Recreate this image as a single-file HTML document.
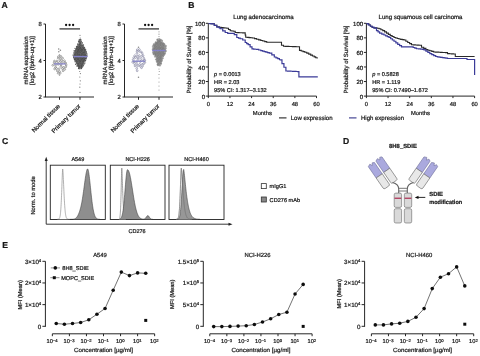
<!DOCTYPE html>
<html><head><meta charset="utf-8"><style>
html,body{margin:0;padding:0;background:#fff;width:480px;height:356px;overflow:hidden}
svg{display:block}
text{font-family:"Liberation Sans", sans-serif;stroke:#1a1a1a;stroke-width:0.22px;text-rendering:geometricPrecision}
</style></head><body>
<svg width="480" height="356" viewBox="0 0 480 356">
<defs><filter id="bl" x="0" y="0" width="1" height="1"><feGaussianBlur stdDeviation="0.3"/></filter></defs>
<rect width="480" height="356" fill="#fff"/>
<g filter="url(#bl)">
<rect width="480" height="356" fill="#fff"/>
<text transform="translate(1.5,8.3) scale(1,1.0)" font-size="8.6" text-anchor="start" font-weight="bold" fill="#1a1a1a" >A</text>
<line x1="45.5" y1="24" x2="45.5" y2="97.3" stroke="#262626" stroke-width="1.0" />
<line x1="45.5" y1="97" x2="94" y2="97" stroke="#262626" stroke-width="1.0" />
<line x1="43.5" y1="24" x2="45.5" y2="24" stroke="#262626" stroke-width="1.0" />
<text transform="translate(41.9,26.3) scale(1,1.0)" font-size="5.9" text-anchor="end" font-weight="normal" fill="#1a1a1a" >8</text>
<line x1="43.5" y1="60.5" x2="45.5" y2="60.5" stroke="#262626" stroke-width="1.0" />
<text transform="translate(41.9,62.8) scale(1,1.0)" font-size="5.9" text-anchor="end" font-weight="normal" fill="#1a1a1a" >4</text>
<line x1="43.5" y1="97" x2="45.5" y2="97" stroke="#262626" stroke-width="1.0" />
<text transform="translate(41.9,99.3) scale(1,1.0)" font-size="5.9" text-anchor="end" font-weight="normal" fill="#1a1a1a" >2</text>
<line x1="59.5" y1="97" x2="59.5" y2="99.8" stroke="#262626" stroke-width="1.0" />
<line x1="80" y1="97" x2="80" y2="99.8" stroke="#262626" stroke-width="1.0" />
<line x1="59.5" y1="28.9" x2="80" y2="28.9" stroke="#3a3a3a" stroke-width="1.3" />
<circle cx="66.1" cy="25" r="1.15" fill="#111"/>
<circle cx="69.6" cy="25" r="1.15" fill="#111"/>
<circle cx="73.1" cy="25" r="1.15" fill="#111"/>
<text transform="translate(27.6,60.5) scale(1,1.0) rotate(-90)" font-size="6.0" text-anchor="middle" font-weight="normal" fill="#1a1a1a" >mRNA expression</text>
<text transform="translate(33.9,60.5) scale(1,1.0) rotate(-90)" font-size="6.0" text-anchor="middle" font-weight="normal" fill="#1a1a1a" >[log2 (fpkm-uq+1)]</text>
<text transform="translate(60.5,106.5) scale(1,1.0) rotate(-45)" font-size="6.1" text-anchor="end" font-weight="normal" fill="#1a1a1a" >Normal tissue</text>
<text transform="translate(81,106.5) scale(1,1.0) rotate(-45)" font-size="6.1" text-anchor="end" font-weight="normal" fill="#1a1a1a" >Primary tumor</text>
<circle cx="58.50" cy="56.65" r="0.9" fill="#fff" stroke="#5a5a5a" stroke-width="0.5"/>
<circle cx="60.84" cy="56.37" r="0.9" fill="#fff" stroke="#5a5a5a" stroke-width="0.5"/>
<circle cx="58.21" cy="58.12" r="0.9" fill="#fff" stroke="#5a5a5a" stroke-width="0.5"/>
<circle cx="60.37" cy="58.17" r="0.9" fill="#fff" stroke="#5a5a5a" stroke-width="0.5"/>
<circle cx="62.58" cy="58.20" r="0.9" fill="#fff" stroke="#5a5a5a" stroke-width="0.5"/>
<circle cx="54.43" cy="61.11" r="0.9" fill="#fff" stroke="#5a5a5a" stroke-width="0.5"/>
<circle cx="56.80" cy="61.14" r="0.9" fill="#fff" stroke="#5a5a5a" stroke-width="0.5"/>
<circle cx="59.86" cy="60.45" r="0.9" fill="#fff" stroke="#5a5a5a" stroke-width="0.5"/>
<circle cx="61.72" cy="60.47" r="0.9" fill="#fff" stroke="#5a5a5a" stroke-width="0.5"/>
<circle cx="64.38" cy="60.74" r="0.9" fill="#fff" stroke="#5a5a5a" stroke-width="0.5"/>
<circle cx="54.17" cy="62.79" r="0.9" fill="#fff" stroke="#5a5a5a" stroke-width="0.5"/>
<circle cx="56.46" cy="62.45" r="0.9" fill="#fff" stroke="#5a5a5a" stroke-width="0.5"/>
<circle cx="59.43" cy="62.55" r="0.9" fill="#fff" stroke="#5a5a5a" stroke-width="0.5"/>
<circle cx="62.05" cy="62.54" r="0.9" fill="#fff" stroke="#5a5a5a" stroke-width="0.5"/>
<circle cx="64.90" cy="62.48" r="0.9" fill="#fff" stroke="#5a5a5a" stroke-width="0.5"/>
<circle cx="65.58" cy="63.12" r="0.9" fill="#fff" stroke="#5a5a5a" stroke-width="0.5"/>
<circle cx="52.79" cy="65.30" r="0.9" fill="#fff" stroke="#5a5a5a" stroke-width="0.5"/>
<circle cx="55.52" cy="65.08" r="0.9" fill="#fff" stroke="#5a5a5a" stroke-width="0.5"/>
<circle cx="58.19" cy="64.36" r="0.9" fill="#fff" stroke="#5a5a5a" stroke-width="0.5"/>
<circle cx="61.06" cy="64.89" r="0.9" fill="#fff" stroke="#5a5a5a" stroke-width="0.5"/>
<circle cx="66.20" cy="64.91" r="0.9" fill="#fff" stroke="#5a5a5a" stroke-width="0.5"/>
<circle cx="55.56" cy="67.24" r="0.9" fill="#fff" stroke="#5a5a5a" stroke-width="0.5"/>
<circle cx="60.96" cy="66.46" r="0.9" fill="#fff" stroke="#5a5a5a" stroke-width="0.5"/>
<circle cx="63.55" cy="67.39" r="0.9" fill="#fff" stroke="#5a5a5a" stroke-width="0.5"/>
<circle cx="65.78" cy="66.79" r="0.9" fill="#fff" stroke="#5a5a5a" stroke-width="0.5"/>
<circle cx="54.61" cy="68.94" r="0.9" fill="#fff" stroke="#5a5a5a" stroke-width="0.5"/>
<circle cx="56.52" cy="68.54" r="0.9" fill="#fff" stroke="#5a5a5a" stroke-width="0.5"/>
<circle cx="59.13" cy="68.73" r="0.9" fill="#fff" stroke="#5a5a5a" stroke-width="0.5"/>
<circle cx="62.47" cy="68.56" r="0.9" fill="#fff" stroke="#5a5a5a" stroke-width="0.5"/>
<circle cx="64.75" cy="69.36" r="0.9" fill="#fff" stroke="#5a5a5a" stroke-width="0.5"/>
<circle cx="57.26" cy="70.84" r="0.9" fill="#fff" stroke="#5a5a5a" stroke-width="0.5"/>
<circle cx="59.36" cy="71.44" r="0.9" fill="#fff" stroke="#5a5a5a" stroke-width="0.5"/>
<circle cx="63.09" cy="70.79" r="0.9" fill="#fff" stroke="#5a5a5a" stroke-width="0.5"/>
<circle cx="58.18" cy="73.23" r="0.9" fill="#fff" stroke="#5a5a5a" stroke-width="0.5"/>
<circle cx="60.30" cy="73.06" r="0.9" fill="#fff" stroke="#5a5a5a" stroke-width="0.5"/>
<circle cx="58.70" cy="49.00" r="0.77" fill="#888" stroke="none"/>
<circle cx="60.40" cy="50.20" r="0.77" fill="#888" stroke="none"/>
<circle cx="58.80" cy="51.80" r="0.77" fill="#888" stroke="none"/>
<circle cx="59.50" cy="55.00" r="0.77" fill="#888" stroke="none"/>
<circle cx="59.50" cy="75.00" r="0.77" fill="#888" stroke="none"/>
<polygon points="80.00,39.50 79.10,43.00 77.30,46.00 75.00,51.00 73.90,55.50 75.10,60.00 77.30,65.00 79.90,69.00 80.10,69.00 82.70,65.00 84.90,60.00 86.10,55.50 85.00,51.00 82.70,46.00 80.90,43.00 80.00,39.50" fill="#7a7a7a"/>
<circle cx="79.33" cy="39.68" r="0.7" fill="#4c4c4c" stroke="none" stroke-width="0.3"/>
<circle cx="80.71" cy="39.55" r="0.7" fill="#4c4c4c" stroke="none" stroke-width="0.3"/>
<circle cx="79.12" cy="40.78" r="0.7" fill="#4c4c4c" stroke="none" stroke-width="0.3"/>
<circle cx="80.85" cy="40.74" r="0.7" fill="#4c4c4c" stroke="none" stroke-width="0.3"/>
<circle cx="78.56" cy="41.58" r="0.7" fill="#4c4c4c" stroke="none" stroke-width="0.3"/>
<circle cx="79.82" cy="41.57" r="0.7" fill="#4c4c4c" stroke="none" stroke-width="0.3"/>
<circle cx="81.26" cy="41.68" r="0.7" fill="#4c4c4c" stroke="none" stroke-width="0.3"/>
<circle cx="79.10" cy="42.72" r="0.7" fill="#4c4c4c" stroke="none" stroke-width="0.3"/>
<circle cx="80.65" cy="42.67" r="0.7" fill="#4c4c4c" stroke="none" stroke-width="0.3"/>
<circle cx="82.15" cy="42.72" r="0.7" fill="#4c4c4c" stroke="none" stroke-width="0.3"/>
<circle cx="77.84" cy="43.93" r="0.7" fill="#4c4c4c" stroke="none" stroke-width="0.3"/>
<circle cx="79.44" cy="44.18" r="0.7" fill="#4c4c4c" stroke="none" stroke-width="0.3"/>
<circle cx="80.69" cy="43.81" r="0.7" fill="#4c4c4c" stroke="none" stroke-width="0.3"/>
<circle cx="82.04" cy="43.89" r="0.7" fill="#4c4c4c" stroke="none" stroke-width="0.3"/>
<circle cx="77.76" cy="44.91" r="0.7" fill="#4c4c4c" stroke="none" stroke-width="0.3"/>
<circle cx="79.31" cy="44.96" r="0.7" fill="#4c4c4c" stroke="none" stroke-width="0.3"/>
<circle cx="80.51" cy="45.11" r="0.7" fill="#4c4c4c" stroke="none" stroke-width="0.3"/>
<circle cx="82.25" cy="45.18" r="0.7" fill="#4c4c4c" stroke="none" stroke-width="0.3"/>
<circle cx="83.45" cy="44.97" r="0.7" fill="#4c4c4c" stroke="none" stroke-width="0.3"/>
<circle cx="76.51" cy="46.33" r="0.7" fill="#4c4c4c" stroke="none" stroke-width="0.3"/>
<circle cx="77.79" cy="46.34" r="0.7" fill="#4c4c4c" stroke="none" stroke-width="0.3"/>
<circle cx="79.44" cy="46.34" r="0.7" fill="#4c4c4c" stroke="none" stroke-width="0.3"/>
<circle cx="80.80" cy="46.11" r="0.7" fill="#4c4c4c" stroke="none" stroke-width="0.3"/>
<circle cx="82.04" cy="46.03" r="0.7" fill="#4c4c4c" stroke="none" stroke-width="0.3"/>
<circle cx="83.41" cy="46.12" r="0.7" fill="#4c4c4c" stroke="none" stroke-width="0.3"/>
<circle cx="76.68" cy="47.32" r="0.7" fill="#4c4c4c" stroke="none" stroke-width="0.3"/>
<circle cx="78.10" cy="47.52" r="0.7" fill="#4c4c4c" stroke="none" stroke-width="0.3"/>
<circle cx="79.19" cy="47.23" r="0.7" fill="#4c4c4c" stroke="none" stroke-width="0.3"/>
<circle cx="80.58" cy="47.39" r="0.7" fill="#4c4c4c" stroke="none" stroke-width="0.3"/>
<circle cx="82.24" cy="47.33" r="0.7" fill="#4c4c4c" stroke="none" stroke-width="0.3"/>
<circle cx="83.62" cy="47.17" r="0.7" fill="#4c4c4c" stroke="none" stroke-width="0.3"/>
<circle cx="84.22" cy="47.45" r="0.7" fill="#4c4c4c" stroke="none" stroke-width="0.3"/>
<circle cx="75.09" cy="48.33" r="0.7" fill="#4c4c4c" stroke="none" stroke-width="0.3"/>
<circle cx="76.43" cy="48.58" r="0.7" fill="#4c4c4c" stroke="none" stroke-width="0.3"/>
<circle cx="77.86" cy="48.42" r="0.7" fill="#4c4c4c" stroke="none" stroke-width="0.3"/>
<circle cx="79.39" cy="48.33" r="0.7" fill="#4c4c4c" stroke="none" stroke-width="0.3"/>
<circle cx="80.56" cy="48.62" r="0.7" fill="#4c4c4c" stroke="none" stroke-width="0.3"/>
<circle cx="81.96" cy="48.59" r="0.7" fill="#4c4c4c" stroke="none" stroke-width="0.3"/>
<circle cx="83.56" cy="48.40" r="0.7" fill="#4c4c4c" stroke="none" stroke-width="0.3"/>
<circle cx="84.75" cy="48.27" r="0.7" fill="#4c4c4c" stroke="none" stroke-width="0.3"/>
<circle cx="75.86" cy="49.59" r="0.7" fill="#4c4c4c" stroke="none" stroke-width="0.3"/>
<circle cx="77.17" cy="49.73" r="0.7" fill="#4c4c4c" stroke="none" stroke-width="0.3"/>
<circle cx="78.48" cy="49.48" r="0.7" fill="#4c4c4c" stroke="none" stroke-width="0.3"/>
<circle cx="79.90" cy="49.61" r="0.7" fill="#4c4c4c" stroke="none" stroke-width="0.3"/>
<circle cx="81.37" cy="49.43" r="0.7" fill="#4c4c4c" stroke="none" stroke-width="0.3"/>
<circle cx="82.74" cy="49.56" r="0.7" fill="#4c4c4c" stroke="none" stroke-width="0.3"/>
<circle cx="84.36" cy="49.55" r="0.7" fill="#4c4c4c" stroke="none" stroke-width="0.3"/>
<circle cx="85.60" cy="49.59" r="0.7" fill="#4c4c4c" stroke="none" stroke-width="0.3"/>
<circle cx="74.21" cy="50.68" r="0.7" fill="#4c4c4c" stroke="none" stroke-width="0.3"/>
<circle cx="75.60" cy="50.82" r="0.7" fill="#4c4c4c" stroke="none" stroke-width="0.3"/>
<circle cx="77.19" cy="50.79" r="0.7" fill="#4c4c4c" stroke="none" stroke-width="0.3"/>
<circle cx="78.53" cy="50.71" r="0.7" fill="#4c4c4c" stroke="none" stroke-width="0.3"/>
<circle cx="80.11" cy="50.54" r="0.7" fill="#4c4c4c" stroke="none" stroke-width="0.3"/>
<circle cx="81.30" cy="50.61" r="0.7" fill="#4c4c4c" stroke="none" stroke-width="0.3"/>
<circle cx="82.80" cy="50.72" r="0.7" fill="#4c4c4c" stroke="none" stroke-width="0.3"/>
<circle cx="84.36" cy="50.68" r="0.7" fill="#4c4c4c" stroke="none" stroke-width="0.3"/>
<circle cx="85.60" cy="50.70" r="0.7" fill="#4c4c4c" stroke="none" stroke-width="0.3"/>
<circle cx="74.38" cy="51.83" r="0.7" fill="#4c4c4c" stroke="none" stroke-width="0.3"/>
<circle cx="75.98" cy="51.90" r="0.7" fill="#4c4c4c" stroke="none" stroke-width="0.3"/>
<circle cx="77.38" cy="51.72" r="0.7" fill="#4c4c4c" stroke="none" stroke-width="0.3"/>
<circle cx="78.78" cy="51.96" r="0.7" fill="#4c4c4c" stroke="none" stroke-width="0.3"/>
<circle cx="79.85" cy="51.80" r="0.7" fill="#4c4c4c" stroke="none" stroke-width="0.3"/>
<circle cx="81.30" cy="51.65" r="0.7" fill="#4c4c4c" stroke="none" stroke-width="0.3"/>
<circle cx="82.91" cy="51.98" r="0.7" fill="#4c4c4c" stroke="none" stroke-width="0.3"/>
<circle cx="84.29" cy="51.88" r="0.7" fill="#4c4c4c" stroke="none" stroke-width="0.3"/>
<circle cx="85.75" cy="52.01" r="0.7" fill="#4c4c4c" stroke="none" stroke-width="0.3"/>
<circle cx="86.10" cy="51.78" r="0.7" fill="#4c4c4c" stroke="none" stroke-width="0.3"/>
<circle cx="73.90" cy="53.07" r="0.7" fill="#4c4c4c" stroke="none" stroke-width="0.3"/>
<circle cx="75.07" cy="52.95" r="0.7" fill="#4c4c4c" stroke="none" stroke-width="0.3"/>
<circle cx="76.38" cy="52.87" r="0.7" fill="#4c4c4c" stroke="none" stroke-width="0.3"/>
<circle cx="77.71" cy="52.96" r="0.7" fill="#4c4c4c" stroke="none" stroke-width="0.3"/>
<circle cx="79.11" cy="52.87" r="0.7" fill="#4c4c4c" stroke="none" stroke-width="0.3"/>
<circle cx="80.70" cy="52.77" r="0.7" fill="#4c4c4c" stroke="none" stroke-width="0.3"/>
<circle cx="82.22" cy="53.13" r="0.7" fill="#4c4c4c" stroke="none" stroke-width="0.3"/>
<circle cx="83.41" cy="52.76" r="0.7" fill="#4c4c4c" stroke="none" stroke-width="0.3"/>
<circle cx="84.81" cy="52.79" r="0.7" fill="#4c4c4c" stroke="none" stroke-width="0.3"/>
<circle cx="86.46" cy="53.07" r="0.7" fill="#4c4c4c" stroke="none" stroke-width="0.3"/>
<circle cx="74.26" cy="54.23" r="0.7" fill="#4c4c4c" stroke="none" stroke-width="0.3"/>
<circle cx="75.88" cy="53.90" r="0.7" fill="#4c4c4c" stroke="none" stroke-width="0.3"/>
<circle cx="77.28" cy="54.03" r="0.7" fill="#4c4c4c" stroke="none" stroke-width="0.3"/>
<circle cx="78.78" cy="54.11" r="0.7" fill="#4c4c4c" stroke="none" stroke-width="0.3"/>
<circle cx="79.83" cy="54.20" r="0.7" fill="#4c4c4c" stroke="none" stroke-width="0.3"/>
<circle cx="81.55" cy="54.04" r="0.7" fill="#4c4c4c" stroke="none" stroke-width="0.3"/>
<circle cx="82.82" cy="54.23" r="0.7" fill="#4c4c4c" stroke="none" stroke-width="0.3"/>
<circle cx="84.05" cy="54.07" r="0.7" fill="#4c4c4c" stroke="none" stroke-width="0.3"/>
<circle cx="85.44" cy="53.92" r="0.7" fill="#4c4c4c" stroke="none" stroke-width="0.3"/>
<circle cx="86.88" cy="53.98" r="0.7" fill="#4c4c4c" stroke="none" stroke-width="0.3"/>
<circle cx="73.10" cy="55.10" r="0.7" fill="#4c4c4c" stroke="none" stroke-width="0.3"/>
<circle cx="74.27" cy="55.12" r="0.7" fill="#4c4c4c" stroke="none" stroke-width="0.3"/>
<circle cx="75.70" cy="54.99" r="0.7" fill="#4c4c4c" stroke="none" stroke-width="0.3"/>
<circle cx="77.22" cy="55.06" r="0.7" fill="#4c4c4c" stroke="none" stroke-width="0.3"/>
<circle cx="78.77" cy="55.02" r="0.7" fill="#4c4c4c" stroke="none" stroke-width="0.3"/>
<circle cx="79.97" cy="55.18" r="0.7" fill="#4c4c4c" stroke="none" stroke-width="0.3"/>
<circle cx="81.36" cy="55.18" r="0.7" fill="#4c4c4c" stroke="none" stroke-width="0.3"/>
<circle cx="82.99" cy="55.12" r="0.7" fill="#4c4c4c" stroke="none" stroke-width="0.3"/>
<circle cx="84.28" cy="55.23" r="0.7" fill="#4c4c4c" stroke="none" stroke-width="0.3"/>
<circle cx="85.54" cy="55.00" r="0.7" fill="#4c4c4c" stroke="none" stroke-width="0.3"/>
<circle cx="86.83" cy="55.28" r="0.7" fill="#4c4c4c" stroke="none" stroke-width="0.3"/>
<circle cx="73.57" cy="56.13" r="0.7" fill="#4c4c4c" stroke="none" stroke-width="0.3"/>
<circle cx="75.25" cy="56.37" r="0.7" fill="#4c4c4c" stroke="none" stroke-width="0.3"/>
<circle cx="76.40" cy="56.22" r="0.7" fill="#4c4c4c" stroke="none" stroke-width="0.3"/>
<circle cx="77.76" cy="56.28" r="0.7" fill="#4c4c4c" stroke="none" stroke-width="0.3"/>
<circle cx="79.48" cy="56.49" r="0.7" fill="#4c4c4c" stroke="none" stroke-width="0.3"/>
<circle cx="80.60" cy="56.49" r="0.7" fill="#4c4c4c" stroke="none" stroke-width="0.3"/>
<circle cx="82.04" cy="56.10" r="0.7" fill="#4c4c4c" stroke="none" stroke-width="0.3"/>
<circle cx="83.49" cy="56.30" r="0.7" fill="#4c4c4c" stroke="none" stroke-width="0.3"/>
<circle cx="84.90" cy="56.10" r="0.7" fill="#4c4c4c" stroke="none" stroke-width="0.3"/>
<circle cx="86.14" cy="56.26" r="0.7" fill="#4c4c4c" stroke="none" stroke-width="0.3"/>
<circle cx="86.79" cy="56.22" r="0.7" fill="#4c4c4c" stroke="none" stroke-width="0.3"/>
<circle cx="73.73" cy="57.43" r="0.7" fill="#4c4c4c" stroke="none" stroke-width="0.3"/>
<circle cx="75.16" cy="57.51" r="0.7" fill="#4c4c4c" stroke="none" stroke-width="0.3"/>
<circle cx="76.46" cy="57.35" r="0.7" fill="#4c4c4c" stroke="none" stroke-width="0.3"/>
<circle cx="77.76" cy="57.51" r="0.7" fill="#4c4c4c" stroke="none" stroke-width="0.3"/>
<circle cx="79.12" cy="57.55" r="0.7" fill="#4c4c4c" stroke="none" stroke-width="0.3"/>
<circle cx="80.75" cy="57.51" r="0.7" fill="#4c4c4c" stroke="none" stroke-width="0.3"/>
<circle cx="81.96" cy="57.43" r="0.7" fill="#4c4c4c" stroke="none" stroke-width="0.3"/>
<circle cx="83.63" cy="57.54" r="0.7" fill="#4c4c4c" stroke="none" stroke-width="0.3"/>
<circle cx="84.93" cy="57.58" r="0.7" fill="#4c4c4c" stroke="none" stroke-width="0.3"/>
<circle cx="86.38" cy="57.31" r="0.7" fill="#4c4c4c" stroke="none" stroke-width="0.3"/>
<circle cx="74.25" cy="58.48" r="0.7" fill="#4c4c4c" stroke="none" stroke-width="0.3"/>
<circle cx="75.93" cy="58.56" r="0.7" fill="#4c4c4c" stroke="none" stroke-width="0.3"/>
<circle cx="77.25" cy="58.61" r="0.7" fill="#4c4c4c" stroke="none" stroke-width="0.3"/>
<circle cx="78.40" cy="58.66" r="0.7" fill="#4c4c4c" stroke="none" stroke-width="0.3"/>
<circle cx="80.00" cy="58.55" r="0.7" fill="#4c4c4c" stroke="none" stroke-width="0.3"/>
<circle cx="81.23" cy="58.63" r="0.7" fill="#4c4c4c" stroke="none" stroke-width="0.3"/>
<circle cx="82.63" cy="58.45" r="0.7" fill="#4c4c4c" stroke="none" stroke-width="0.3"/>
<circle cx="84.08" cy="58.64" r="0.7" fill="#4c4c4c" stroke="none" stroke-width="0.3"/>
<circle cx="85.60" cy="58.49" r="0.7" fill="#4c4c4c" stroke="none" stroke-width="0.3"/>
<circle cx="86.19" cy="58.65" r="0.7" fill="#4c4c4c" stroke="none" stroke-width="0.3"/>
<circle cx="74.46" cy="59.49" r="0.7" fill="#4c4c4c" stroke="none" stroke-width="0.3"/>
<circle cx="75.70" cy="59.76" r="0.7" fill="#4c4c4c" stroke="none" stroke-width="0.3"/>
<circle cx="77.23" cy="59.46" r="0.7" fill="#4c4c4c" stroke="none" stroke-width="0.3"/>
<circle cx="78.51" cy="59.73" r="0.7" fill="#4c4c4c" stroke="none" stroke-width="0.3"/>
<circle cx="80.07" cy="59.58" r="0.7" fill="#4c4c4c" stroke="none" stroke-width="0.3"/>
<circle cx="81.39" cy="59.65" r="0.7" fill="#4c4c4c" stroke="none" stroke-width="0.3"/>
<circle cx="82.96" cy="59.54" r="0.7" fill="#4c4c4c" stroke="none" stroke-width="0.3"/>
<circle cx="84.37" cy="59.47" r="0.7" fill="#4c4c4c" stroke="none" stroke-width="0.3"/>
<circle cx="85.73" cy="59.85" r="0.7" fill="#4c4c4c" stroke="none" stroke-width="0.3"/>
<circle cx="75.01" cy="60.66" r="0.7" fill="#4c4c4c" stroke="none" stroke-width="0.3"/>
<circle cx="76.38" cy="60.81" r="0.7" fill="#4c4c4c" stroke="none" stroke-width="0.3"/>
<circle cx="77.91" cy="60.96" r="0.7" fill="#4c4c4c" stroke="none" stroke-width="0.3"/>
<circle cx="79.43" cy="60.78" r="0.7" fill="#4c4c4c" stroke="none" stroke-width="0.3"/>
<circle cx="80.78" cy="60.67" r="0.7" fill="#4c4c4c" stroke="none" stroke-width="0.3"/>
<circle cx="82.09" cy="60.59" r="0.7" fill="#4c4c4c" stroke="none" stroke-width="0.3"/>
<circle cx="83.50" cy="60.76" r="0.7" fill="#4c4c4c" stroke="none" stroke-width="0.3"/>
<circle cx="84.76" cy="60.72" r="0.7" fill="#4c4c4c" stroke="none" stroke-width="0.3"/>
<circle cx="85.46" cy="60.58" r="0.7" fill="#4c4c4c" stroke="none" stroke-width="0.3"/>
<circle cx="75.24" cy="61.75" r="0.7" fill="#4c4c4c" stroke="none" stroke-width="0.3"/>
<circle cx="76.59" cy="62.06" r="0.7" fill="#4c4c4c" stroke="none" stroke-width="0.3"/>
<circle cx="77.85" cy="61.86" r="0.7" fill="#4c4c4c" stroke="none" stroke-width="0.3"/>
<circle cx="79.34" cy="61.84" r="0.7" fill="#4c4c4c" stroke="none" stroke-width="0.3"/>
<circle cx="80.61" cy="61.72" r="0.7" fill="#4c4c4c" stroke="none" stroke-width="0.3"/>
<circle cx="82.23" cy="61.81" r="0.7" fill="#4c4c4c" stroke="none" stroke-width="0.3"/>
<circle cx="83.40" cy="61.81" r="0.7" fill="#4c4c4c" stroke="none" stroke-width="0.3"/>
<circle cx="84.78" cy="61.85" r="0.7" fill="#4c4c4c" stroke="none" stroke-width="0.3"/>
<circle cx="76.65" cy="63.14" r="0.7" fill="#4c4c4c" stroke="none" stroke-width="0.3"/>
<circle cx="78.07" cy="63.20" r="0.7" fill="#4c4c4c" stroke="none" stroke-width="0.3"/>
<circle cx="79.39" cy="62.84" r="0.7" fill="#4c4c4c" stroke="none" stroke-width="0.3"/>
<circle cx="80.68" cy="63.12" r="0.7" fill="#4c4c4c" stroke="none" stroke-width="0.3"/>
<circle cx="82.01" cy="62.84" r="0.7" fill="#4c4c4c" stroke="none" stroke-width="0.3"/>
<circle cx="83.35" cy="63.01" r="0.7" fill="#4c4c4c" stroke="none" stroke-width="0.3"/>
<circle cx="84.82" cy="63.12" r="0.7" fill="#4c4c4c" stroke="none" stroke-width="0.3"/>
<circle cx="75.70" cy="64.20" r="0.7" fill="#4c4c4c" stroke="none" stroke-width="0.3"/>
<circle cx="77.22" cy="64.10" r="0.7" fill="#4c4c4c" stroke="none" stroke-width="0.3"/>
<circle cx="78.46" cy="64.02" r="0.7" fill="#4c4c4c" stroke="none" stroke-width="0.3"/>
<circle cx="80.00" cy="64.03" r="0.7" fill="#4c4c4c" stroke="none" stroke-width="0.3"/>
<circle cx="81.60" cy="64.12" r="0.7" fill="#4c4c4c" stroke="none" stroke-width="0.3"/>
<circle cx="82.68" cy="63.98" r="0.7" fill="#4c4c4c" stroke="none" stroke-width="0.3"/>
<circle cx="84.04" cy="64.04" r="0.7" fill="#4c4c4c" stroke="none" stroke-width="0.3"/>
<circle cx="77.23" cy="65.41" r="0.7" fill="#4c4c4c" stroke="none" stroke-width="0.3"/>
<circle cx="78.57" cy="65.23" r="0.7" fill="#4c4c4c" stroke="none" stroke-width="0.3"/>
<circle cx="79.95" cy="65.20" r="0.7" fill="#4c4c4c" stroke="none" stroke-width="0.3"/>
<circle cx="81.31" cy="65.45" r="0.7" fill="#4c4c4c" stroke="none" stroke-width="0.3"/>
<circle cx="82.80" cy="65.31" r="0.7" fill="#4c4c4c" stroke="none" stroke-width="0.3"/>
<circle cx="83.43" cy="65.17" r="0.7" fill="#4c4c4c" stroke="none" stroke-width="0.3"/>
<circle cx="77.16" cy="66.36" r="0.7" fill="#4c4c4c" stroke="none" stroke-width="0.3"/>
<circle cx="78.74" cy="66.53" r="0.7" fill="#4c4c4c" stroke="none" stroke-width="0.3"/>
<circle cx="79.81" cy="66.46" r="0.7" fill="#4c4c4c" stroke="none" stroke-width="0.3"/>
<circle cx="81.39" cy="66.41" r="0.7" fill="#4c4c4c" stroke="none" stroke-width="0.3"/>
<circle cx="82.76" cy="66.55" r="0.7" fill="#4c4c4c" stroke="none" stroke-width="0.3"/>
<circle cx="78.74" cy="67.69" r="0.7" fill="#4c4c4c" stroke="none" stroke-width="0.3"/>
<circle cx="79.84" cy="67.36" r="0.7" fill="#4c4c4c" stroke="none" stroke-width="0.3"/>
<circle cx="81.47" cy="67.68" r="0.7" fill="#4c4c4c" stroke="none" stroke-width="0.3"/>
<circle cx="81.98" cy="67.61" r="0.7" fill="#4c4c4c" stroke="none" stroke-width="0.3"/>
<circle cx="78.62" cy="68.44" r="0.7" fill="#4c4c4c" stroke="none" stroke-width="0.3"/>
<circle cx="79.89" cy="68.79" r="0.7" fill="#4c4c4c" stroke="none" stroke-width="0.3"/>
<circle cx="81.32" cy="68.47" r="0.7" fill="#4c4c4c" stroke="none" stroke-width="0.3"/>
<circle cx="80.00" cy="35.30" r="0.59" fill="#777" stroke="none"/>
<circle cx="80.20" cy="38.00" r="0.59" fill="#777" stroke="none"/>
<circle cx="79.70" cy="71.50" r="0.59" fill="#777" stroke="none"/>
<circle cx="80.40" cy="73.60" r="0.59" fill="#777" stroke="none"/>
<circle cx="79.80" cy="77.00" r="0.59" fill="#777" stroke="none"/>
<circle cx="80.30" cy="80.80" r="0.59" fill="#777" stroke="none"/>
<circle cx="80.00" cy="84.00" r="0.59" fill="#777" stroke="none"/>
<circle cx="79.80" cy="87.20" r="0.59" fill="#777" stroke="none"/>
<circle cx="80.00" cy="92.40" r="0.59" fill="#777" stroke="none"/>
<line x1="54" y1="63.9" x2="65.6" y2="63.9" stroke="#8482c8" stroke-width="1.3" />
<line x1="73.6" y1="56.6" x2="87.5" y2="56.6" stroke="#8482c8" stroke-width="1.4" />
<line x1="124.5" y1="24" x2="124.5" y2="97.3" stroke="#262626" stroke-width="1.0" />
<line x1="124.5" y1="97" x2="173" y2="97" stroke="#262626" stroke-width="1.0" />
<line x1="122.5" y1="24" x2="124.5" y2="24" stroke="#262626" stroke-width="1.0" />
<text transform="translate(120.9,26.3) scale(1,1.0)" font-size="5.9" text-anchor="end" font-weight="normal" fill="#1a1a1a" >8</text>
<line x1="122.5" y1="60.5" x2="124.5" y2="60.5" stroke="#262626" stroke-width="1.0" />
<text transform="translate(120.9,62.8) scale(1,1.0)" font-size="5.9" text-anchor="end" font-weight="normal" fill="#1a1a1a" >4</text>
<line x1="122.5" y1="97" x2="124.5" y2="97" stroke="#262626" stroke-width="1.0" />
<text transform="translate(120.9,99.3) scale(1,1.0)" font-size="5.9" text-anchor="end" font-weight="normal" fill="#1a1a1a" >2</text>
<line x1="138.5" y1="97" x2="138.5" y2="99.8" stroke="#262626" stroke-width="1.0" />
<line x1="159" y1="97" x2="159" y2="99.8" stroke="#262626" stroke-width="1.0" />
<line x1="138.5" y1="28.9" x2="159" y2="28.9" stroke="#3a3a3a" stroke-width="1.3" />
<circle cx="145.1" cy="25" r="1.15" fill="#111"/>
<circle cx="148.6" cy="25" r="1.15" fill="#111"/>
<circle cx="152.1" cy="25" r="1.15" fill="#111"/>
<text transform="translate(106.6,60.5) scale(1,1.0) rotate(-90)" font-size="6.0" text-anchor="middle" font-weight="normal" fill="#1a1a1a" >mRNA expression</text>
<text transform="translate(112.9,60.5) scale(1,1.0) rotate(-90)" font-size="6.0" text-anchor="middle" font-weight="normal" fill="#1a1a1a" >[log2 (fpkm-uq+1)]</text>
<text transform="translate(139.5,106.5) scale(1,1.0) rotate(-45)" font-size="6.1" text-anchor="end" font-weight="normal" fill="#1a1a1a" >Normal tissue</text>
<text transform="translate(160,106.5) scale(1,1.0) rotate(-45)" font-size="6.1" text-anchor="end" font-weight="normal" fill="#1a1a1a" >Primary tumor</text>
<circle cx="137.34" cy="49.70" r="0.9" fill="#fff" stroke="#66668a" stroke-width="0.5"/>
<circle cx="139.37" cy="49.52" r="0.9" fill="#fff" stroke="#66668a" stroke-width="0.5"/>
<circle cx="137.09" cy="51.30" r="0.9" fill="#fff" stroke="#66668a" stroke-width="0.5"/>
<circle cx="139.31" cy="51.38" r="0.9" fill="#fff" stroke="#66668a" stroke-width="0.5"/>
<circle cx="140.99" cy="51.72" r="0.9" fill="#fff" stroke="#66668a" stroke-width="0.5"/>
<circle cx="136.93" cy="53.41" r="0.9" fill="#fff" stroke="#66668a" stroke-width="0.5"/>
<circle cx="142.21" cy="53.18" r="0.9" fill="#fff" stroke="#66668a" stroke-width="0.5"/>
<circle cx="134.77" cy="55.66" r="0.9" fill="#fff" stroke="#66668a" stroke-width="0.5"/>
<circle cx="137.37" cy="56.17" r="0.9" fill="#fff" stroke="#66668a" stroke-width="0.5"/>
<circle cx="139.33" cy="55.58" r="0.9" fill="#fff" stroke="#66668a" stroke-width="0.5"/>
<circle cx="142.58" cy="55.44" r="0.9" fill="#fff" stroke="#66668a" stroke-width="0.5"/>
<circle cx="143.10" cy="55.74" r="0.9" fill="#fff" stroke="#66668a" stroke-width="0.5"/>
<circle cx="133.77" cy="57.63" r="0.9" fill="#fff" stroke="#66668a" stroke-width="0.5"/>
<circle cx="135.63" cy="57.54" r="0.9" fill="#fff" stroke="#66668a" stroke-width="0.5"/>
<circle cx="138.29" cy="58.27" r="0.9" fill="#fff" stroke="#66668a" stroke-width="0.5"/>
<circle cx="140.79" cy="57.54" r="0.9" fill="#fff" stroke="#66668a" stroke-width="0.5"/>
<circle cx="143.87" cy="58.27" r="0.9" fill="#fff" stroke="#66668a" stroke-width="0.5"/>
<circle cx="133.19" cy="59.61" r="0.9" fill="#fff" stroke="#66668a" stroke-width="0.5"/>
<circle cx="138.05" cy="59.46" r="0.9" fill="#fff" stroke="#66668a" stroke-width="0.5"/>
<circle cx="141.50" cy="60.28" r="0.9" fill="#fff" stroke="#66668a" stroke-width="0.5"/>
<circle cx="144.20" cy="60.33" r="0.9" fill="#fff" stroke="#66668a" stroke-width="0.5"/>
<circle cx="144.76" cy="60.34" r="0.9" fill="#fff" stroke="#66668a" stroke-width="0.5"/>
<circle cx="132.64" cy="62.14" r="0.9" fill="#fff" stroke="#66668a" stroke-width="0.5"/>
<circle cx="134.47" cy="61.81" r="0.9" fill="#fff" stroke="#66668a" stroke-width="0.5"/>
<circle cx="136.70" cy="61.76" r="0.9" fill="#fff" stroke="#66668a" stroke-width="0.5"/>
<circle cx="140.26" cy="61.60" r="0.9" fill="#fff" stroke="#66668a" stroke-width="0.5"/>
<circle cx="144.86" cy="62.30" r="0.9" fill="#fff" stroke="#66668a" stroke-width="0.5"/>
<circle cx="134.53" cy="63.61" r="0.9" fill="#fff" stroke="#66668a" stroke-width="0.5"/>
<circle cx="137.07" cy="64.48" r="0.9" fill="#fff" stroke="#66668a" stroke-width="0.5"/>
<circle cx="139.66" cy="64.46" r="0.9" fill="#fff" stroke="#66668a" stroke-width="0.5"/>
<circle cx="142.31" cy="64.37" r="0.9" fill="#fff" stroke="#66668a" stroke-width="0.5"/>
<circle cx="143.91" cy="63.59" r="0.9" fill="#fff" stroke="#66668a" stroke-width="0.5"/>
<circle cx="135.02" cy="65.90" r="0.9" fill="#fff" stroke="#66668a" stroke-width="0.5"/>
<circle cx="137.60" cy="65.98" r="0.9" fill="#fff" stroke="#66668a" stroke-width="0.5"/>
<circle cx="140.26" cy="66.26" r="0.9" fill="#fff" stroke="#66668a" stroke-width="0.5"/>
<circle cx="142.62" cy="65.96" r="0.9" fill="#fff" stroke="#66668a" stroke-width="0.5"/>
<circle cx="136.70" cy="68.48" r="0.9" fill="#fff" stroke="#66668a" stroke-width="0.5"/>
<circle cx="141.53" cy="67.74" r="0.9" fill="#fff" stroke="#66668a" stroke-width="0.5"/>
<circle cx="137.18" cy="70.76" r="0.9" fill="#fff" stroke="#66668a" stroke-width="0.5"/>
<circle cx="138.50" cy="47.30" r="0.77" fill="#888" stroke="none"/>
<circle cx="138.50" cy="77.20" r="0.77" fill="#888" stroke="none"/>
<polygon points="158.80,39.50 156.50,42.00 153.70,45.50 153.40,51.00 154.50,54.00 156.20,57.00 158.00,63.00 159.00,66.50 159.00,66.50 160.00,63.00 161.80,57.00 163.50,54.00 164.60,51.00 164.30,45.50 161.50,42.00 159.20,39.50" fill="#9a9a9a"/>
<circle cx="157.33" cy="39.46" r="0.72" fill="#a4a4a4" stroke="#5f5f5f" stroke-width="0.3"/>
<circle cx="159.21" cy="39.34" r="0.72" fill="#a4a4a4" stroke="#5f5f5f" stroke-width="0.3"/>
<circle cx="160.67" cy="39.66" r="0.72" fill="#a4a4a4" stroke="#5f5f5f" stroke-width="0.3"/>
<circle cx="157.50" cy="40.65" r="0.72" fill="#a4a4a4" stroke="#5f5f5f" stroke-width="0.3"/>
<circle cx="158.93" cy="40.88" r="0.72" fill="#a4a4a4" stroke="#5f5f5f" stroke-width="0.3"/>
<circle cx="160.40" cy="40.87" r="0.72" fill="#a4a4a4" stroke="#5f5f5f" stroke-width="0.3"/>
<circle cx="161.88" cy="40.51" r="0.72" fill="#a4a4a4" stroke="#5f5f5f" stroke-width="0.3"/>
<circle cx="155.81" cy="42.22" r="0.72" fill="#a4a4a4" stroke="#5f5f5f" stroke-width="0.3"/>
<circle cx="157.69" cy="41.86" r="0.72" fill="#a4a4a4" stroke="#5f5f5f" stroke-width="0.3"/>
<circle cx="158.80" cy="41.98" r="0.72" fill="#a4a4a4" stroke="#5f5f5f" stroke-width="0.3"/>
<circle cx="160.52" cy="41.85" r="0.72" fill="#a4a4a4" stroke="#5f5f5f" stroke-width="0.3"/>
<circle cx="162.16" cy="42.07" r="0.72" fill="#a4a4a4" stroke="#5f5f5f" stroke-width="0.3"/>
<circle cx="155.30" cy="43.30" r="0.72" fill="#a4a4a4" stroke="#5f5f5f" stroke-width="0.3"/>
<circle cx="156.85" cy="43.12" r="0.72" fill="#a4a4a4" stroke="#5f5f5f" stroke-width="0.3"/>
<circle cx="158.16" cy="43.34" r="0.72" fill="#a4a4a4" stroke="#5f5f5f" stroke-width="0.3"/>
<circle cx="159.65" cy="43.09" r="0.72" fill="#a4a4a4" stroke="#5f5f5f" stroke-width="0.3"/>
<circle cx="161.52" cy="43.26" r="0.72" fill="#a4a4a4" stroke="#5f5f5f" stroke-width="0.3"/>
<circle cx="162.82" cy="43.47" r="0.72" fill="#a4a4a4" stroke="#5f5f5f" stroke-width="0.3"/>
<circle cx="163.48" cy="43.37" r="0.72" fill="#a4a4a4" stroke="#5f5f5f" stroke-width="0.3"/>
<circle cx="153.82" cy="44.26" r="0.72" fill="#a4a4a4" stroke="#5f5f5f" stroke-width="0.3"/>
<circle cx="155.28" cy="44.63" r="0.72" fill="#a4a4a4" stroke="#5f5f5f" stroke-width="0.3"/>
<circle cx="156.45" cy="44.36" r="0.72" fill="#a4a4a4" stroke="#5f5f5f" stroke-width="0.3"/>
<circle cx="158.07" cy="44.70" r="0.72" fill="#a4a4a4" stroke="#5f5f5f" stroke-width="0.3"/>
<circle cx="159.99" cy="44.40" r="0.72" fill="#a4a4a4" stroke="#5f5f5f" stroke-width="0.3"/>
<circle cx="161.30" cy="44.34" r="0.72" fill="#a4a4a4" stroke="#5f5f5f" stroke-width="0.3"/>
<circle cx="163.10" cy="44.26" r="0.72" fill="#a4a4a4" stroke="#5f5f5f" stroke-width="0.3"/>
<circle cx="164.48" cy="44.32" r="0.72" fill="#a4a4a4" stroke="#5f5f5f" stroke-width="0.3"/>
<circle cx="153.40" cy="45.55" r="0.72" fill="#a4a4a4" stroke="#5f5f5f" stroke-width="0.3"/>
<circle cx="155.17" cy="45.78" r="0.72" fill="#a4a4a4" stroke="#5f5f5f" stroke-width="0.3"/>
<circle cx="156.43" cy="45.61" r="0.72" fill="#a4a4a4" stroke="#5f5f5f" stroke-width="0.3"/>
<circle cx="158.07" cy="45.61" r="0.72" fill="#a4a4a4" stroke="#5f5f5f" stroke-width="0.3"/>
<circle cx="159.92" cy="45.72" r="0.72" fill="#a4a4a4" stroke="#5f5f5f" stroke-width="0.3"/>
<circle cx="161.13" cy="45.65" r="0.72" fill="#a4a4a4" stroke="#5f5f5f" stroke-width="0.3"/>
<circle cx="162.94" cy="45.50" r="0.72" fill="#a4a4a4" stroke="#5f5f5f" stroke-width="0.3"/>
<circle cx="164.52" cy="45.65" r="0.72" fill="#a4a4a4" stroke="#5f5f5f" stroke-width="0.3"/>
<circle cx="165.88" cy="45.93" r="0.72" fill="#a4a4a4" stroke="#5f5f5f" stroke-width="0.3"/>
<circle cx="152.83" cy="46.87" r="0.72" fill="#a4a4a4" stroke="#5f5f5f" stroke-width="0.3"/>
<circle cx="154.53" cy="47.19" r="0.72" fill="#a4a4a4" stroke="#5f5f5f" stroke-width="0.3"/>
<circle cx="155.75" cy="47.05" r="0.72" fill="#a4a4a4" stroke="#5f5f5f" stroke-width="0.3"/>
<circle cx="157.20" cy="47.14" r="0.72" fill="#a4a4a4" stroke="#5f5f5f" stroke-width="0.3"/>
<circle cx="159.16" cy="46.89" r="0.72" fill="#a4a4a4" stroke="#5f5f5f" stroke-width="0.3"/>
<circle cx="160.53" cy="46.77" r="0.72" fill="#a4a4a4" stroke="#5f5f5f" stroke-width="0.3"/>
<circle cx="162.13" cy="47.01" r="0.72" fill="#a4a4a4" stroke="#5f5f5f" stroke-width="0.3"/>
<circle cx="163.44" cy="47.00" r="0.72" fill="#a4a4a4" stroke="#5f5f5f" stroke-width="0.3"/>
<circle cx="165.20" cy="46.76" r="0.72" fill="#a4a4a4" stroke="#5f5f5f" stroke-width="0.3"/>
<circle cx="153.59" cy="48.39" r="0.72" fill="#a4a4a4" stroke="#5f5f5f" stroke-width="0.3"/>
<circle cx="155.12" cy="48.33" r="0.72" fill="#a4a4a4" stroke="#5f5f5f" stroke-width="0.3"/>
<circle cx="156.52" cy="47.99" r="0.72" fill="#a4a4a4" stroke="#5f5f5f" stroke-width="0.3"/>
<circle cx="158.46" cy="48.17" r="0.72" fill="#a4a4a4" stroke="#5f5f5f" stroke-width="0.3"/>
<circle cx="159.99" cy="48.12" r="0.72" fill="#a4a4a4" stroke="#5f5f5f" stroke-width="0.3"/>
<circle cx="161.39" cy="48.34" r="0.72" fill="#a4a4a4" stroke="#5f5f5f" stroke-width="0.3"/>
<circle cx="163.02" cy="48.04" r="0.72" fill="#a4a4a4" stroke="#5f5f5f" stroke-width="0.3"/>
<circle cx="164.60" cy="48.34" r="0.72" fill="#a4a4a4" stroke="#5f5f5f" stroke-width="0.3"/>
<circle cx="165.83" cy="48.13" r="0.72" fill="#a4a4a4" stroke="#5f5f5f" stroke-width="0.3"/>
<circle cx="152.74" cy="49.23" r="0.72" fill="#a4a4a4" stroke="#5f5f5f" stroke-width="0.3"/>
<circle cx="154.46" cy="49.62" r="0.72" fill="#a4a4a4" stroke="#5f5f5f" stroke-width="0.3"/>
<circle cx="155.93" cy="49.55" r="0.72" fill="#a4a4a4" stroke="#5f5f5f" stroke-width="0.3"/>
<circle cx="157.62" cy="49.23" r="0.72" fill="#a4a4a4" stroke="#5f5f5f" stroke-width="0.3"/>
<circle cx="159.03" cy="49.48" r="0.72" fill="#a4a4a4" stroke="#5f5f5f" stroke-width="0.3"/>
<circle cx="160.51" cy="49.46" r="0.72" fill="#a4a4a4" stroke="#5f5f5f" stroke-width="0.3"/>
<circle cx="162.18" cy="49.39" r="0.72" fill="#a4a4a4" stroke="#5f5f5f" stroke-width="0.3"/>
<circle cx="163.41" cy="49.48" r="0.72" fill="#a4a4a4" stroke="#5f5f5f" stroke-width="0.3"/>
<circle cx="165.07" cy="49.55" r="0.72" fill="#a4a4a4" stroke="#5f5f5f" stroke-width="0.3"/>
<circle cx="153.55" cy="50.50" r="0.72" fill="#a4a4a4" stroke="#5f5f5f" stroke-width="0.3"/>
<circle cx="154.93" cy="50.47" r="0.72" fill="#a4a4a4" stroke="#5f5f5f" stroke-width="0.3"/>
<circle cx="156.47" cy="50.63" r="0.72" fill="#a4a4a4" stroke="#5f5f5f" stroke-width="0.3"/>
<circle cx="158.00" cy="50.73" r="0.72" fill="#a4a4a4" stroke="#5f5f5f" stroke-width="0.3"/>
<circle cx="159.89" cy="50.80" r="0.72" fill="#a4a4a4" stroke="#5f5f5f" stroke-width="0.3"/>
<circle cx="161.10" cy="50.66" r="0.72" fill="#a4a4a4" stroke="#5f5f5f" stroke-width="0.3"/>
<circle cx="163.10" cy="50.48" r="0.72" fill="#a4a4a4" stroke="#5f5f5f" stroke-width="0.3"/>
<circle cx="164.67" cy="50.78" r="0.72" fill="#a4a4a4" stroke="#5f5f5f" stroke-width="0.3"/>
<circle cx="165.82" cy="50.90" r="0.72" fill="#a4a4a4" stroke="#5f5f5f" stroke-width="0.3"/>
<circle cx="153.03" cy="52.11" r="0.72" fill="#a4a4a4" stroke="#5f5f5f" stroke-width="0.3"/>
<circle cx="154.49" cy="52.12" r="0.72" fill="#a4a4a4" stroke="#5f5f5f" stroke-width="0.3"/>
<circle cx="155.83" cy="52.03" r="0.72" fill="#a4a4a4" stroke="#5f5f5f" stroke-width="0.3"/>
<circle cx="157.65" cy="51.79" r="0.72" fill="#a4a4a4" stroke="#5f5f5f" stroke-width="0.3"/>
<circle cx="158.82" cy="51.90" r="0.72" fill="#a4a4a4" stroke="#5f5f5f" stroke-width="0.3"/>
<circle cx="160.40" cy="51.78" r="0.72" fill="#a4a4a4" stroke="#5f5f5f" stroke-width="0.3"/>
<circle cx="162.01" cy="51.67" r="0.72" fill="#a4a4a4" stroke="#5f5f5f" stroke-width="0.3"/>
<circle cx="163.48" cy="52.12" r="0.72" fill="#a4a4a4" stroke="#5f5f5f" stroke-width="0.3"/>
<circle cx="165.40" cy="51.73" r="0.72" fill="#a4a4a4" stroke="#5f5f5f" stroke-width="0.3"/>
<circle cx="153.38" cy="53.16" r="0.72" fill="#a4a4a4" stroke="#5f5f5f" stroke-width="0.3"/>
<circle cx="155.05" cy="53.33" r="0.72" fill="#a4a4a4" stroke="#5f5f5f" stroke-width="0.3"/>
<circle cx="156.72" cy="53.33" r="0.72" fill="#a4a4a4" stroke="#5f5f5f" stroke-width="0.3"/>
<circle cx="158.47" cy="53.20" r="0.72" fill="#a4a4a4" stroke="#5f5f5f" stroke-width="0.3"/>
<circle cx="159.92" cy="53.02" r="0.72" fill="#a4a4a4" stroke="#5f5f5f" stroke-width="0.3"/>
<circle cx="161.36" cy="53.07" r="0.72" fill="#a4a4a4" stroke="#5f5f5f" stroke-width="0.3"/>
<circle cx="162.85" cy="52.98" r="0.72" fill="#a4a4a4" stroke="#5f5f5f" stroke-width="0.3"/>
<circle cx="164.20" cy="53.30" r="0.72" fill="#a4a4a4" stroke="#5f5f5f" stroke-width="0.3"/>
<circle cx="164.82" cy="53.38" r="0.72" fill="#a4a4a4" stroke="#5f5f5f" stroke-width="0.3"/>
<circle cx="153.66" cy="54.29" r="0.72" fill="#a4a4a4" stroke="#5f5f5f" stroke-width="0.3"/>
<circle cx="154.89" cy="54.20" r="0.72" fill="#a4a4a4" stroke="#5f5f5f" stroke-width="0.3"/>
<circle cx="156.64" cy="54.39" r="0.72" fill="#a4a4a4" stroke="#5f5f5f" stroke-width="0.3"/>
<circle cx="158.04" cy="54.24" r="0.72" fill="#a4a4a4" stroke="#5f5f5f" stroke-width="0.3"/>
<circle cx="159.54" cy="54.13" r="0.72" fill="#a4a4a4" stroke="#5f5f5f" stroke-width="0.3"/>
<circle cx="161.13" cy="54.31" r="0.72" fill="#a4a4a4" stroke="#5f5f5f" stroke-width="0.3"/>
<circle cx="162.92" cy="54.42" r="0.72" fill="#a4a4a4" stroke="#5f5f5f" stroke-width="0.3"/>
<circle cx="164.49" cy="54.37" r="0.72" fill="#a4a4a4" stroke="#5f5f5f" stroke-width="0.3"/>
<circle cx="155.34" cy="55.49" r="0.72" fill="#a4a4a4" stroke="#5f5f5f" stroke-width="0.3"/>
<circle cx="156.47" cy="55.69" r="0.72" fill="#a4a4a4" stroke="#5f5f5f" stroke-width="0.3"/>
<circle cx="158.37" cy="55.57" r="0.72" fill="#a4a4a4" stroke="#5f5f5f" stroke-width="0.3"/>
<circle cx="159.53" cy="55.69" r="0.72" fill="#a4a4a4" stroke="#5f5f5f" stroke-width="0.3"/>
<circle cx="161.25" cy="55.69" r="0.72" fill="#a4a4a4" stroke="#5f5f5f" stroke-width="0.3"/>
<circle cx="163.09" cy="55.74" r="0.72" fill="#a4a4a4" stroke="#5f5f5f" stroke-width="0.3"/>
<circle cx="163.58" cy="55.39" r="0.72" fill="#a4a4a4" stroke="#5f5f5f" stroke-width="0.3"/>
<circle cx="155.08" cy="56.73" r="0.72" fill="#a4a4a4" stroke="#5f5f5f" stroke-width="0.3"/>
<circle cx="156.81" cy="56.62" r="0.72" fill="#a4a4a4" stroke="#5f5f5f" stroke-width="0.3"/>
<circle cx="158.45" cy="56.68" r="0.72" fill="#a4a4a4" stroke="#5f5f5f" stroke-width="0.3"/>
<circle cx="159.83" cy="56.86" r="0.72" fill="#a4a4a4" stroke="#5f5f5f" stroke-width="0.3"/>
<circle cx="161.48" cy="56.70" r="0.72" fill="#a4a4a4" stroke="#5f5f5f" stroke-width="0.3"/>
<circle cx="162.78" cy="56.63" r="0.72" fill="#a4a4a4" stroke="#5f5f5f" stroke-width="0.3"/>
<circle cx="156.82" cy="58.21" r="0.72" fill="#a4a4a4" stroke="#5f5f5f" stroke-width="0.3"/>
<circle cx="158.40" cy="58.22" r="0.72" fill="#a4a4a4" stroke="#5f5f5f" stroke-width="0.3"/>
<circle cx="159.90" cy="58.08" r="0.72" fill="#a4a4a4" stroke="#5f5f5f" stroke-width="0.3"/>
<circle cx="161.13" cy="57.97" r="0.72" fill="#a4a4a4" stroke="#5f5f5f" stroke-width="0.3"/>
<circle cx="162.79" cy="58.22" r="0.72" fill="#a4a4a4" stroke="#5f5f5f" stroke-width="0.3"/>
<circle cx="156.07" cy="59.45" r="0.72" fill="#a4a4a4" stroke="#5f5f5f" stroke-width="0.3"/>
<circle cx="157.48" cy="59.31" r="0.72" fill="#a4a4a4" stroke="#5f5f5f" stroke-width="0.3"/>
<circle cx="159.01" cy="59.22" r="0.72" fill="#a4a4a4" stroke="#5f5f5f" stroke-width="0.3"/>
<circle cx="160.78" cy="59.20" r="0.72" fill="#a4a4a4" stroke="#5f5f5f" stroke-width="0.3"/>
<circle cx="161.86" cy="59.22" r="0.72" fill="#a4a4a4" stroke="#5f5f5f" stroke-width="0.3"/>
<circle cx="156.80" cy="60.80" r="0.72" fill="#a4a4a4" stroke="#5f5f5f" stroke-width="0.3"/>
<circle cx="158.14" cy="60.77" r="0.72" fill="#a4a4a4" stroke="#5f5f5f" stroke-width="0.3"/>
<circle cx="159.64" cy="60.78" r="0.72" fill="#a4a4a4" stroke="#5f5f5f" stroke-width="0.3"/>
<circle cx="161.42" cy="60.66" r="0.72" fill="#a4a4a4" stroke="#5f5f5f" stroke-width="0.3"/>
<circle cx="161.73" cy="60.75" r="0.72" fill="#a4a4a4" stroke="#5f5f5f" stroke-width="0.3"/>
<circle cx="156.85" cy="61.79" r="0.72" fill="#a4a4a4" stroke="#5f5f5f" stroke-width="0.3"/>
<circle cx="158.26" cy="61.72" r="0.72" fill="#a4a4a4" stroke="#5f5f5f" stroke-width="0.3"/>
<circle cx="159.84" cy="61.61" r="0.72" fill="#a4a4a4" stroke="#5f5f5f" stroke-width="0.3"/>
<circle cx="161.15" cy="61.58" r="0.72" fill="#a4a4a4" stroke="#5f5f5f" stroke-width="0.3"/>
<circle cx="157.66" cy="62.98" r="0.72" fill="#a4a4a4" stroke="#5f5f5f" stroke-width="0.3"/>
<circle cx="158.76" cy="62.83" r="0.72" fill="#a4a4a4" stroke="#5f5f5f" stroke-width="0.3"/>
<circle cx="160.62" cy="63.16" r="0.72" fill="#a4a4a4" stroke="#5f5f5f" stroke-width="0.3"/>
<circle cx="160.98" cy="63.11" r="0.72" fill="#a4a4a4" stroke="#5f5f5f" stroke-width="0.3"/>
<circle cx="157.61" cy="64.46" r="0.72" fill="#a4a4a4" stroke="#5f5f5f" stroke-width="0.3"/>
<circle cx="158.78" cy="64.48" r="0.72" fill="#a4a4a4" stroke="#5f5f5f" stroke-width="0.3"/>
<circle cx="160.77" cy="64.10" r="0.72" fill="#a4a4a4" stroke="#5f5f5f" stroke-width="0.3"/>
<circle cx="158.03" cy="65.31" r="0.72" fill="#a4a4a4" stroke="#5f5f5f" stroke-width="0.3"/>
<circle cx="159.93" cy="65.61" r="0.72" fill="#a4a4a4" stroke="#5f5f5f" stroke-width="0.3"/>
<circle cx="159.00" cy="31.80" r="0.61" fill="#9a9a9a" stroke="none"/>
<circle cx="159.00" cy="34.20" r="0.61" fill="#9a9a9a" stroke="none"/>
<circle cx="159.00" cy="36.60" r="0.61" fill="#9a9a9a" stroke="none"/>
<circle cx="159.00" cy="38.60" r="0.61" fill="#9a9a9a" stroke="none"/>
<circle cx="159.00" cy="69.00" r="0.61" fill="#9a9a9a" stroke="none"/>
<circle cx="159.30" cy="71.50" r="0.61" fill="#9a9a9a" stroke="none"/>
<circle cx="159.00" cy="74.50" r="0.61" fill="#9a9a9a" stroke="none"/>
<circle cx="159.00" cy="78.00" r="0.61" fill="#9a9a9a" stroke="none"/>
<circle cx="159.00" cy="82.00" r="0.61" fill="#9a9a9a" stroke="none"/>
<circle cx="159.00" cy="86.00" r="0.61" fill="#9a9a9a" stroke="none"/>
<circle cx="159.00" cy="90.00" r="0.61" fill="#9a9a9a" stroke="none"/>
<line x1="132.5" y1="61.2" x2="145" y2="61.2" stroke="#8482c8" stroke-width="1.3" />
<line x1="152.2" y1="50.5" x2="165.5" y2="50.5" stroke="#8482c8" stroke-width="1.4" />
<text transform="translate(188.3,8.3) scale(1,1.0)" font-size="8.6" text-anchor="start" font-weight="bold" fill="#1a1a1a" >B</text>
<line x1="208.3" y1="23.3" x2="208.3" y2="96.5" stroke="#262626" stroke-width="1.0" />
<line x1="208.3" y1="96.1" x2="316.5" y2="96.1" stroke="#262626" stroke-width="1.0" />
<line x1="205.8" y1="23.3" x2="208.3" y2="23.3" stroke="#262626" stroke-width="1.0" />
<text transform="translate(205.0,25.900000000000002) scale(1,1.0)" font-size="6.0" text-anchor="end" font-weight="normal" fill="#1a1a1a" >100</text>
<line x1="205.8" y1="37.86" x2="208.3" y2="37.86" stroke="#262626" stroke-width="1.0" />
<text transform="translate(205.0,40.46) scale(1,1.0)" font-size="6.0" text-anchor="end" font-weight="normal" fill="#1a1a1a" >80</text>
<line x1="205.8" y1="52.42" x2="208.3" y2="52.42" stroke="#262626" stroke-width="1.0" />
<text transform="translate(205.0,55.02) scale(1,1.0)" font-size="6.0" text-anchor="end" font-weight="normal" fill="#1a1a1a" >60</text>
<line x1="205.8" y1="66.97999999999999" x2="208.3" y2="66.97999999999999" stroke="#262626" stroke-width="1.0" />
<text transform="translate(205.0,69.57999999999998) scale(1,1.0)" font-size="6.0" text-anchor="end" font-weight="normal" fill="#1a1a1a" >40</text>
<line x1="205.8" y1="81.53999999999999" x2="208.3" y2="81.53999999999999" stroke="#262626" stroke-width="1.0" />
<text transform="translate(205.0,84.13999999999999) scale(1,1.0)" font-size="6.0" text-anchor="end" font-weight="normal" fill="#1a1a1a" >20</text>
<line x1="205.8" y1="96.1" x2="208.3" y2="96.1" stroke="#262626" stroke-width="1.0" />
<text transform="translate(205.0,98.69999999999999) scale(1,1.0)" font-size="6.0" text-anchor="end" font-weight="normal" fill="#1a1a1a" >0</text>
<line x1="208.3" y1="96.1" x2="208.3" y2="98.1" stroke="#262626" stroke-width="1.0" />
<text transform="translate(208.3,106.0) scale(1,1.0)" font-size="5.8" text-anchor="middle" font-weight="normal" fill="#1a1a1a" >0</text>
<line x1="229.94" y1="96.1" x2="229.94" y2="98.1" stroke="#262626" stroke-width="1.0" />
<text transform="translate(229.94,106.0) scale(1,1.0)" font-size="5.8" text-anchor="middle" font-weight="normal" fill="#1a1a1a" >12</text>
<line x1="251.58" y1="96.1" x2="251.58" y2="98.1" stroke="#262626" stroke-width="1.0" />
<text transform="translate(251.58,106.0) scale(1,1.0)" font-size="5.8" text-anchor="middle" font-weight="normal" fill="#1a1a1a" >24</text>
<line x1="273.22" y1="96.1" x2="273.22" y2="98.1" stroke="#262626" stroke-width="1.0" />
<text transform="translate(273.22,106.0) scale(1,1.0)" font-size="5.8" text-anchor="middle" font-weight="normal" fill="#1a1a1a" >36</text>
<line x1="294.86" y1="96.1" x2="294.86" y2="98.1" stroke="#262626" stroke-width="1.0" />
<text transform="translate(294.86,106.0) scale(1,1.0)" font-size="5.8" text-anchor="middle" font-weight="normal" fill="#1a1a1a" >48</text>
<line x1="316.5" y1="96.1" x2="316.5" y2="98.1" stroke="#262626" stroke-width="1.0" />
<text transform="translate(316.5,106.0) scale(1,1.0)" font-size="5.8" text-anchor="middle" font-weight="normal" fill="#1a1a1a" >60</text>
<text transform="translate(262.3,115) scale(1,1.0)" font-size="5.8" text-anchor="middle" font-weight="normal" fill="#1a1a1a" >Months</text>
<text transform="translate(263.5,19.3) scale(1,1.0)" font-size="6.1" text-anchor="middle" font-weight="normal" fill="#1a1a1a" >Lung adenocarcinoma</text>
<text transform="translate(191,59.5) scale(1,1.0) rotate(-90)" font-size="6.0" text-anchor="middle" font-weight="normal" fill="#1a1a1a" >Probability of Survival [%]</text>
<text transform="translate(214.10000000000002,75.6) scale(1,1.0)" font-size="5.6" text-anchor="start" font-weight="normal" fill="#1a1a1a" ><tspan font-style="italic">p</tspan> = 0.0013</text>
<text transform="translate(214.10000000000002,83.8) scale(1,1.0)" font-size="5.6" text-anchor="start" font-weight="normal" fill="#1a1a1a" >HR = 2.03</text>
<text transform="translate(214.10000000000002,92.2) scale(1,1.0)" font-size="5.6" text-anchor="start" font-weight="normal" fill="#1a1a1a" >95% CI: 1.317–3.132</text>
<line x1="366.4" y1="23.3" x2="366.4" y2="96.5" stroke="#262626" stroke-width="1.0" />
<line x1="366.4" y1="96.1" x2="474.59999999999997" y2="96.1" stroke="#262626" stroke-width="1.0" />
<line x1="363.9" y1="23.3" x2="366.4" y2="23.3" stroke="#262626" stroke-width="1.0" />
<text transform="translate(363.09999999999997,25.900000000000002) scale(1,1.0)" font-size="6.0" text-anchor="end" font-weight="normal" fill="#1a1a1a" >100</text>
<line x1="363.9" y1="37.86" x2="366.4" y2="37.86" stroke="#262626" stroke-width="1.0" />
<text transform="translate(363.09999999999997,40.46) scale(1,1.0)" font-size="6.0" text-anchor="end" font-weight="normal" fill="#1a1a1a" >80</text>
<line x1="363.9" y1="52.42" x2="366.4" y2="52.42" stroke="#262626" stroke-width="1.0" />
<text transform="translate(363.09999999999997,55.02) scale(1,1.0)" font-size="6.0" text-anchor="end" font-weight="normal" fill="#1a1a1a" >60</text>
<line x1="363.9" y1="66.97999999999999" x2="366.4" y2="66.97999999999999" stroke="#262626" stroke-width="1.0" />
<text transform="translate(363.09999999999997,69.57999999999998) scale(1,1.0)" font-size="6.0" text-anchor="end" font-weight="normal" fill="#1a1a1a" >40</text>
<line x1="363.9" y1="81.53999999999999" x2="366.4" y2="81.53999999999999" stroke="#262626" stroke-width="1.0" />
<text transform="translate(363.09999999999997,84.13999999999999) scale(1,1.0)" font-size="6.0" text-anchor="end" font-weight="normal" fill="#1a1a1a" >20</text>
<line x1="363.9" y1="96.1" x2="366.4" y2="96.1" stroke="#262626" stroke-width="1.0" />
<text transform="translate(363.09999999999997,98.69999999999999) scale(1,1.0)" font-size="6.0" text-anchor="end" font-weight="normal" fill="#1a1a1a" >0</text>
<line x1="366.4" y1="96.1" x2="366.4" y2="98.1" stroke="#262626" stroke-width="1.0" />
<text transform="translate(366.4,106.0) scale(1,1.0)" font-size="5.8" text-anchor="middle" font-weight="normal" fill="#1a1a1a" >0</text>
<line x1="388.03999999999996" y1="96.1" x2="388.03999999999996" y2="98.1" stroke="#262626" stroke-width="1.0" />
<text transform="translate(388.03999999999996,106.0) scale(1,1.0)" font-size="5.8" text-anchor="middle" font-weight="normal" fill="#1a1a1a" >12</text>
<line x1="409.67999999999995" y1="96.1" x2="409.67999999999995" y2="98.1" stroke="#262626" stroke-width="1.0" />
<text transform="translate(409.67999999999995,106.0) scale(1,1.0)" font-size="5.8" text-anchor="middle" font-weight="normal" fill="#1a1a1a" >24</text>
<line x1="431.32" y1="96.1" x2="431.32" y2="98.1" stroke="#262626" stroke-width="1.0" />
<text transform="translate(431.32,106.0) scale(1,1.0)" font-size="5.8" text-anchor="middle" font-weight="normal" fill="#1a1a1a" >36</text>
<line x1="452.96" y1="96.1" x2="452.96" y2="98.1" stroke="#262626" stroke-width="1.0" />
<text transform="translate(452.96,106.0) scale(1,1.0)" font-size="5.8" text-anchor="middle" font-weight="normal" fill="#1a1a1a" >48</text>
<line x1="474.59999999999997" y1="96.1" x2="474.59999999999997" y2="98.1" stroke="#262626" stroke-width="1.0" />
<text transform="translate(474.59999999999997,106.0) scale(1,1.0)" font-size="5.8" text-anchor="middle" font-weight="normal" fill="#1a1a1a" >60</text>
<text transform="translate(420.4,115) scale(1,1.0)" font-size="5.8" text-anchor="middle" font-weight="normal" fill="#1a1a1a" >Months</text>
<text transform="translate(420.5,19.3) scale(1,1.0)" font-size="6.1" text-anchor="middle" font-weight="normal" fill="#1a1a1a" >Lung squamous cell carcinoma</text>
<text transform="translate(347.5,59.5) scale(1,1.0) rotate(-90)" font-size="6.0" text-anchor="middle" font-weight="normal" fill="#1a1a1a" >Probability of Survival [%]</text>
<text transform="translate(372.2,75.6) scale(1,1.0)" font-size="5.6" text-anchor="start" font-weight="normal" fill="#1a1a1a" ><tspan font-style="italic">p</tspan> = 0.5828</text>
<text transform="translate(372.2,83.8) scale(1,1.0)" font-size="5.6" text-anchor="start" font-weight="normal" fill="#1a1a1a" >HR = 1.119</text>
<text transform="translate(372.2,92.2) scale(1,1.0)" font-size="5.6" text-anchor="start" font-weight="normal" fill="#1a1a1a" >95% CI: 0.7490–1.672</text>
<polyline points="208.50,23.50 210.15,23.50 210.15,23.65 211.80,23.65 211.80,23.80 214.30,23.80 214.30,25.40 216.80,25.40 216.80,26.80 219.30,26.80 219.30,27.40 221.18,27.40 221.18,27.62 223.05,27.62 223.05,27.85 224.93,27.85 224.93,28.07 226.80,28.07 226.80,28.30 228.50,28.30 228.50,29.55 230.20,29.55 230.20,30.80 231.85,30.80 231.85,31.02 233.50,31.02 233.50,31.25 235.20,31.25 235.20,32.50 237.07,32.50 237.07,32.60 238.95,32.60 238.95,32.70 240.82,32.70 240.82,32.80 242.70,32.80 242.70,32.90 245.20,32.90 245.20,35.00 245.70,35.00 245.70,37.20 247.38,37.20 247.38,37.40 249.05,37.40 249.05,37.60 250.72,37.60 250.72,37.80 252.40,37.80 252.40,38.00 254.50,38.00 254.50,38.65 256.60,38.65 256.60,39.30 258.70,39.30 258.70,39.90 260.80,39.90 260.80,40.50 262.77,40.50 262.77,41.07 264.73,41.07 264.73,41.63 266.70,41.63 266.70,42.20 279.40,42.20 281.50,42.20 281.50,45.20 283.50,45.20 283.50,46.30 285.27,46.30 285.27,46.36 287.05,46.36 287.05,46.42 288.82,46.42 288.82,46.49 290.60,46.49 290.60,46.55 292.38,46.55 292.38,46.61 294.15,46.61 294.15,46.67 295.93,46.67 295.93,46.74 297.70,46.74 297.70,46.80 299.50,46.80 299.50,50.40 301.27,50.40 301.27,51.00 303.03,51.00 303.03,51.60 304.80,51.60 304.80,52.20 306.77,52.20 306.77,53.17 308.73,53.17 308.73,54.13 310.70,54.13 310.70,55.10 312.45,55.10 312.45,56.00 314.20,56.00 314.20,56.90 315.70,56.90 315.70,57.75 317.20,57.75 317.20,58.60" fill="none" stroke="#2a2a2a" stroke-width="1.1" stroke-linejoin="miter" />
<polyline points="208.50,23.50 210.15,23.50 210.15,23.65 211.80,23.65 211.80,23.80 214.30,23.80 214.30,25.40 216.80,25.40 216.80,27.10 219.30,27.10 219.30,27.90 220.20,27.90 220.20,28.75 222.70,28.75 222.70,30.80 225.20,30.80 225.20,32.50 227.70,32.50 227.70,33.30 232.70,33.30 234.30,33.30 234.30,34.60 236.80,34.60 236.80,37.50 238.50,37.50 238.50,38.12 240.20,38.12 240.20,38.75 242.70,38.75 242.70,40.00 245.20,40.00 245.20,42.50 246.70,42.50 246.70,43.60 248.20,43.60 248.20,44.70 250.10,44.70 250.10,46.80 252.00,46.80 252.00,48.90 253.53,48.90 253.53,49.07 255.07,49.07 255.07,49.23 256.60,49.23 256.60,49.40 258.70,49.40 258.70,50.00 260.80,50.00 260.80,50.60 262.50,50.60 262.50,51.12 264.20,51.12 264.20,51.64 265.90,51.64 265.90,52.16 267.60,52.16 267.60,52.68 269.30,52.68 269.30,53.20 271.80,53.20 271.80,54.80 274.30,54.80 274.30,57.00 276.00,57.00 276.00,57.83 277.70,57.83 277.70,58.67 279.40,58.67 279.40,59.50 280.00,59.80 281.97,59.80 281.97,63.53 283.93,63.53 283.93,67.27 285.90,67.27 285.90,71.00 287.59,71.00 287.59,71.09 289.27,71.09 289.27,71.17 290.96,71.17 290.96,71.26 292.64,71.26 292.64,71.34 294.33,71.34 294.33,71.43 296.01,71.43 296.01,71.51 297.70,71.51 297.70,71.60 298.90,71.60 298.90,76.90 317.80,76.90" fill="none" stroke="#3b3b98" stroke-width="1.2" stroke-linejoin="miter" />
<polyline points="366.40,23.70 369.00,23.70 369.00,25.00 370.55,25.00 370.55,26.25 372.10,26.25 372.10,27.50 373.55,27.50 373.55,27.70 375.00,27.70 375.00,27.90 377.00,27.90 377.00,28.32 379.00,28.32 379.00,28.75 380.88,28.75 380.88,29.68 382.75,29.68 382.75,30.60 384.62,30.60 384.62,31.85 386.50,31.85 386.50,33.10 388.38,33.10 388.38,34.35 390.25,34.35 390.25,35.60 392.12,35.60 392.12,36.55 394.00,36.55 394.00,37.50 395.67,37.50 395.67,38.00 397.33,38.00 397.33,38.50 399.00,38.50 399.00,39.00 400.67,39.00 400.67,39.33 402.33,39.33 402.33,39.67 404.00,39.67 404.00,40.00 405.88,40.00 405.88,41.25 407.75,41.25 407.75,42.50 409.62,42.50 409.62,43.65 411.50,43.65 411.50,44.80 413.38,44.80 413.38,44.90 415.25,44.90 415.25,45.00 417.12,45.00 417.12,45.10 419.00,45.10 419.00,45.20 421.50,45.20 421.50,47.20 423.70,47.20 423.70,48.40 425.90,48.40 425.90,49.60 427.85,49.60 427.85,50.20 429.80,50.20 429.80,50.80 431.75,50.80 431.75,51.40 433.70,51.40 433.70,52.00 435.39,52.00 435.39,52.09 437.07,52.09 437.07,52.17 438.76,52.17 438.76,52.26 440.44,52.26 440.44,52.34 442.13,52.34 442.13,52.43 443.81,52.43 443.81,52.51 445.50,52.51 445.50,52.60 447.50,52.60 447.50,53.60 449.47,53.60 449.47,53.73 451.43,53.73 451.43,53.87 453.40,53.87 453.40,54.00 455.30,54.00 455.30,56.50 474.60,56.50" fill="none" stroke="#2a2a2a" stroke-width="1.1" stroke-linejoin="miter" />
<polyline points="366.40,23.70 368.32,23.70 368.32,24.98 370.25,24.98 370.25,26.25 372.12,26.25 372.12,27.18 374.00,27.18 374.00,28.10 376.50,28.10 376.50,30.60 378.05,30.60 378.05,31.85 379.60,31.85 379.60,33.10 381.80,33.10 381.80,34.05 384.00,34.05 384.00,35.00 385.67,35.00 385.67,35.83 387.33,35.83 387.33,36.67 389.00,36.67 389.00,37.50 390.67,37.50 390.67,38.75 392.33,38.75 392.33,40.00 394.00,40.00 394.00,41.25 395.88,41.25 395.88,42.83 397.75,42.83 397.75,44.40 399.62,44.40 399.62,45.65 401.50,45.65 401.50,46.90 411.50,46.90 413.17,46.90 413.17,47.52 414.83,47.52 414.83,48.13 416.50,48.13 416.50,48.75 418.58,48.75 418.58,48.97 420.67,48.97 420.67,49.18 422.75,49.18 422.75,49.40 424.00,49.40 424.00,49.80 425.93,49.80 425.93,51.07 427.87,51.07 427.87,52.33 429.80,52.33 429.80,53.60 431.77,53.60 431.77,54.57 433.73,54.57 433.73,55.53 435.70,55.53 435.70,56.50 437.39,56.50 437.39,56.79 439.07,56.79 439.07,57.07 440.76,57.07 440.76,57.36 442.44,57.36 442.44,57.64 444.13,57.64 444.13,57.93 445.81,57.93 445.81,58.21 447.50,58.21 447.50,58.50 467.00,58.50 467.00,59.50 474.60,59.50 474.60,75.00" fill="none" stroke="#3b3b98" stroke-width="1.2" stroke-linejoin="miter" />
<line x1="279" y1="117.9" x2="286.5" y2="117.9" stroke="#222" stroke-width="1.1" />
<text transform="translate(290.7,120.1) scale(1,1.0)" font-size="6.1" text-anchor="start" font-weight="normal" fill="#1a1a1a" textLength="41.8" lengthAdjust="spacingAndGlyphs" >Low expression</text>
<line x1="349" y1="117.9" x2="356.5" y2="117.9" stroke="#33338a" stroke-width="1.1" />
<text transform="translate(361,120.1) scale(1,1.0)" font-size="6.1" text-anchor="start" font-weight="normal" fill="#1a1a1a" textLength="43" lengthAdjust="spacingAndGlyphs" >High expression</text>
<text transform="translate(2.1,144.3) scale(1,1.0)" font-size="8.6" text-anchor="start" font-weight="bold" fill="#1a1a1a" >C</text>
<line x1="46.2" y1="160" x2="46.2" y2="224.2" stroke="#222" stroke-width="0.9" />
<polygon points="44.7,161 46.2,156.8 47.7,161" fill="#222"/>
<line x1="46.2" y1="224.2" x2="229" y2="224.2" stroke="#222" stroke-width="0.9" />
<polygon points="228.5,222.7 232.5,224.2 228.5,225.7" fill="#222"/>
<rect x="50.3" y="165.2" width="55.0" height="54.3" fill="none" stroke="#222" stroke-width="0.9"/>
<text transform="translate(77.8,160.8) scale(1,1.0)" font-size="5.5" text-anchor="middle" font-weight="normal" fill="#1a1a1a" >A549</text>
<rect x="110.3" y="165.2" width="54.7" height="54.3" fill="none" stroke="#222" stroke-width="0.9"/>
<text transform="translate(137.6,160.8) scale(1,1.0)" font-size="5.5" text-anchor="middle" font-weight="normal" fill="#1a1a1a" >NCI-H226</text>
<rect x="169" y="165.2" width="55" height="54.3" fill="none" stroke="#222" stroke-width="0.9"/>
<text transform="translate(196.5,160.8) scale(1,1.0)" font-size="5.5" text-anchor="middle" font-weight="normal" fill="#1a1a1a" >NCI-H460</text>
<text transform="translate(137,233) scale(1,1.0)" font-size="5.5" text-anchor="middle" font-weight="normal" fill="#1a1a1a" >CD276</text>
<text transform="translate(35.4,195.4) scale(1,1.0) rotate(-90)" font-size="5.8" text-anchor="middle" font-weight="normal" fill="#1a1a1a" >Norm. to mode</text>
<path d="M57.00,219.30 L57.11,219.30 L57.22,219.29 L57.33,219.29 L57.43,219.29 L57.54,219.29 L57.65,219.28 L57.76,219.28 L57.87,219.27 L57.98,219.26 L58.08,219.25 L58.19,219.23 L58.30,219.21 L58.41,219.19 L58.52,219.15 L58.62,219.11 L58.73,219.06 L58.84,219.00 L58.95,218.93 L59.06,218.83 L59.17,218.72 L59.27,218.58 L59.38,218.40 L59.49,218.20 L59.60,217.95 L59.71,217.65 L59.82,217.29 L59.92,216.86 L60.03,216.36 L60.14,215.78 L60.25,215.09 L60.36,214.29 L60.47,213.37 L60.58,212.32 L60.68,211.12 L60.79,209.76 L60.90,208.23 L61.01,206.52 L61.12,204.63 L61.23,202.56 L61.33,200.30 L61.44,197.86 L61.55,195.26 L61.66,192.50 L61.77,189.63 L61.88,186.68 L61.98,183.69 L62.09,180.72 L62.20,177.84 L62.31,175.14 L62.42,172.71 L62.52,170.70 L62.63,169.29 L62.74,169.03 L62.85,169.93 L62.96,171.32 L63.07,173.06 L63.17,175.06 L63.28,177.25 L63.39,179.57 L63.50,181.98 L63.61,184.42 L63.72,186.87 L63.83,189.29 L63.93,191.65 L64.04,193.95 L64.15,196.15 L64.26,198.25 L64.37,200.23 L64.47,202.10 L64.58,203.84 L64.69,205.46 L64.80,206.96 L64.91,208.33 L65.02,209.59 L65.12,210.73 L65.23,211.76 L65.34,212.69 L65.45,213.52 L65.56,214.27 L65.67,214.93 L65.78,215.52 L65.88,216.04 L65.99,216.49 L66.10,216.89 L66.21,217.24 L66.32,217.55 L66.42,217.81 L66.53,218.04 L66.64,218.23 L66.75,218.40 L66.86,218.54 L66.97,218.66 L67.08,218.77 L67.18,218.86 L67.29,218.93 L67.40,218.99 L67.51,219.05 L67.62,219.09 L67.72,219.13 L67.83,219.16 L67.94,219.18 L68.05,219.21 L68.16,219.22 L68.27,219.24 L68.38,219.25 L68.48,219.26 L68.59,219.27 L68.70,219.27 L68.81,219.28 L68.92,219.28 L69.03,219.29 L69.13,219.29 L69.24,219.29 L69.35,219.29 L69.46,219.29 L69.57,219.30 L69.67,219.30 L69.78,219.30 L69.89,219.30 L70.00,219.30" fill="#fff" stroke="#888" stroke-width="0.65"/>
<path d="M70.00,219.29 L70.25,219.29 L70.50,219.29 L70.75,219.29 L71.00,219.28 L71.25,219.28 L71.50,219.27 L71.75,219.26 L72.00,219.26 L72.25,219.24 L72.50,219.23 L72.75,219.21 L73.00,219.19 L73.25,219.16 L73.50,219.12 L73.75,219.08 L74.00,219.03 L74.25,218.96 L74.50,218.88 L74.75,218.79 L75.00,218.68 L75.25,218.54 L75.50,218.39 L75.75,218.21 L76.00,218.00 L76.25,217.76 L76.50,217.49 L76.75,217.19 L77.00,216.86 L77.25,216.49 L77.50,216.09 L77.75,215.65 L78.00,215.18 L78.25,214.67 L78.50,214.12 L78.75,213.54 L79.00,212.92 L79.25,212.26 L79.50,211.55 L79.75,210.80 L80.00,209.99 L80.25,209.14 L80.50,208.22 L80.75,207.23 L81.00,206.18 L81.25,205.05 L81.50,203.85 L81.75,202.56 L82.00,201.20 L82.25,199.75 L82.50,198.22 L82.75,196.62 L83.00,194.95 L83.25,193.21 L83.50,191.43 L83.75,189.60 L84.00,187.75 L84.25,185.88 L84.50,184.02 L84.75,182.18 L85.00,180.37 L85.25,178.63 L85.50,176.96 L85.75,175.40 L86.00,173.95 L86.25,172.64 L86.50,171.49 L86.75,170.52 L87.00,169.76 L87.25,169.22 L87.50,168.93 L87.75,168.98 L88.00,169.44 L88.25,170.26 L88.50,171.39 L88.75,172.81 L89.00,174.49 L89.25,176.38 L89.50,178.44 L89.75,180.65 L90.00,182.97 L90.25,185.35 L90.50,187.76 L90.75,190.18 L91.00,192.57 L91.25,194.91 L91.50,197.17 L91.75,199.34 L92.00,201.40 L92.25,203.34 L92.50,205.15 L92.75,206.82 L93.00,208.36 L93.25,209.76 L93.50,211.03 L93.75,212.17 L94.00,213.19 L94.25,214.09 L94.50,214.88 L94.75,215.57 L95.00,216.17 L95.25,216.69 L95.50,217.13 L95.75,217.51 L96.00,217.83 L96.25,218.10 L96.50,218.33 L96.75,218.51 L97.00,218.67 L97.25,218.79 L97.50,218.90 L97.75,218.98 L98.00,219.05 L98.25,219.10 L98.50,219.15 L98.75,219.18 L99.00,219.21 L99.25,219.23 L99.50,219.25 L99.75,219.26 L100.00,219.27" fill="#8e8e8e" stroke="#3a3a3a" stroke-width="0.55"/>
<path d="M119.00,219.16 L119.06,219.13 L119.12,219.09 L119.17,219.05 L119.23,218.99 L119.29,218.93 L119.35,218.86 L119.41,218.77 L119.47,218.67 L119.53,218.55 L119.58,218.40 L119.64,218.24 L119.70,218.05 L119.76,217.83 L119.82,217.57 L119.88,217.27 L119.93,216.93 L119.99,216.54 L120.05,216.10 L120.11,215.59 L120.17,215.02 L120.22,214.38 L120.28,213.65 L120.34,212.84 L120.40,211.94 L120.46,210.94 L120.52,209.83 L120.58,208.61 L120.63,207.28 L120.69,205.82 L120.75,204.25 L120.81,202.55 L120.87,200.72 L120.92,198.78 L120.98,196.72 L121.04,194.56 L121.10,192.30 L121.16,189.96 L121.22,187.55 L121.28,185.11 L121.33,182.65 L121.39,180.22 L121.45,177.84 L121.51,175.57 L121.57,173.45 L121.62,171.54 L121.68,169.93 L121.74,168.71 L121.80,168.10 L121.86,168.60 L121.92,169.51 L121.97,170.65 L122.03,171.98 L122.09,173.44 L122.15,175.00 L122.21,176.63 L122.27,178.32 L122.33,180.05 L122.38,181.80 L122.44,183.55 L122.50,185.30 L122.56,187.03 L122.62,188.73 L122.67,190.40 L122.73,192.03 L122.79,193.62 L122.85,195.16 L122.91,196.64 L122.97,198.07 L123.03,199.45 L123.08,200.76 L123.14,202.02 L123.20,203.21 L123.26,204.34 L123.32,205.42 L123.38,206.43 L123.43,207.39 L123.49,208.30 L123.55,209.14 L123.61,209.94 L123.67,210.68 L123.72,211.38 L123.78,212.03 L123.84,212.63 L123.90,213.19 L123.96,213.72 L124.02,214.20 L124.08,214.64 L124.13,215.06 L124.19,215.44 L124.25,215.79 L124.31,216.11 L124.37,216.41 L124.42,216.68 L124.48,216.93 L124.54,217.15 L124.60,217.36 L124.66,217.55 L124.72,217.72 L124.78,217.88 L124.83,218.02 L124.89,218.15 L124.95,218.27 L125.01,218.38 L125.07,218.47 L125.12,218.56 L125.18,218.64 L125.24,218.71 L125.30,218.77 L125.36,218.83 L125.42,218.88 L125.47,218.93 L125.53,218.97 L125.59,219.01 L125.65,219.04 L125.71,219.07 L125.77,219.09 L125.83,219.12 L125.88,219.14 L125.94,219.16 L126.00,219.17" fill="#fff" stroke="#707070" stroke-width="0.65"/>
<path d="M120.00,218.92 L120.28,218.77 L120.55,218.55 L120.83,218.26 L121.10,217.88 L121.38,217.39 L121.65,216.76 L121.92,215.96 L122.20,214.97 L122.47,213.76 L122.75,212.30 L123.03,210.58 L123.30,208.57 L123.58,206.28 L123.85,203.70 L124.12,200.85 L124.40,197.76 L124.67,194.49 L124.95,191.09 L125.22,187.65 L125.50,184.25 L125.78,180.99 L126.05,177.97 L126.33,175.30 L126.60,173.07 L126.88,171.35 L127.15,170.22 L127.42,169.72 L127.70,169.73 L127.97,169.88 L128.25,170.18 L128.53,170.62 L128.80,171.21 L129.07,171.94 L129.35,172.81 L129.62,173.81 L129.90,174.94 L130.18,176.19 L130.45,177.55 L130.72,179.00 L131.00,180.54 L131.28,182.15 L131.55,183.82 L131.82,185.54 L132.10,187.29 L132.38,189.05 L132.65,190.83 L132.93,192.60 L133.20,194.34 L133.47,196.07 L133.75,197.75 L134.03,199.38 L134.30,200.96 L134.57,202.48 L134.85,203.93 L135.12,205.31 L135.40,206.61 L135.68,207.84 L135.95,208.98 L136.22,210.05 L136.50,211.04 L136.78,211.95 L137.05,212.79 L137.32,213.55 L137.60,214.25 L137.88,214.87 L138.15,215.44 L138.43,215.94 L138.70,216.39 L138.97,216.79 L139.25,217.15 L139.53,217.46 L139.80,217.73 L140.07,217.97 L140.35,218.18 L140.62,218.35 L140.90,218.51 L141.18,218.64 L141.45,218.75 L141.72,218.84 L142.00,218.92 L142.28,218.99 L142.55,219.04 L142.82,219.08 L143.10,219.10 L143.38,219.12 L143.65,219.11 L143.93,219.08 L144.20,219.02 L144.47,218.93 L144.75,218.79 L145.03,218.59 L145.30,218.35 L145.57,218.04 L145.85,217.69 L146.12,217.29 L146.40,216.88 L146.68,216.48 L146.95,216.13 L147.22,215.84 L147.50,215.65 L147.78,215.58 L148.05,215.63 L148.32,215.80 L148.60,216.07 L148.88,216.42 L149.15,216.82 L149.43,217.23 L149.70,217.63 L149.97,218.00 L150.25,218.32 L150.53,218.59 L150.80,218.80 L151.07,218.96 L151.35,219.07 L151.62,219.16 L151.90,219.21 L152.18,219.25 L152.45,219.27 L152.72,219.28 L153.00,219.29" fill="#8e8e8e" stroke="#3a3a3a" stroke-width="0.55"/>
<path d="M176.00,219.29 L176.13,219.29 L176.27,219.28 L176.40,219.27 L176.53,219.26 L176.67,219.25 L176.80,219.23 L176.93,219.20 L177.07,219.17 L177.20,219.12 L177.33,219.06 L177.47,218.98 L177.60,218.88 L177.73,218.75 L177.87,218.58 L178.00,218.36 L178.13,218.09 L178.27,217.74 L178.40,217.32 L178.53,216.79 L178.67,216.14 L178.80,215.36 L178.93,214.41 L179.07,213.28 L179.20,211.94 L179.33,210.37 L179.47,208.55 L179.60,206.46 L179.73,204.09 L179.87,201.43 L180.00,198.49 L180.13,195.29 L180.27,191.86 L180.40,188.25 L180.53,184.53 L180.67,180.80 L180.80,177.18 L180.93,173.84 L181.07,170.97 L181.20,168.86 L181.33,168.22 L181.47,169.27 L181.60,170.72 L181.73,172.41 L181.87,174.25 L182.00,176.19 L182.13,178.19 L182.27,180.23 L182.40,182.27 L182.53,184.29 L182.67,186.29 L182.80,188.25 L182.93,190.15 L183.07,192.00 L183.20,193.78 L183.33,195.49 L183.47,197.12 L183.60,198.68 L183.73,200.17 L183.87,201.57 L184.00,202.90 L184.13,204.15 L184.27,205.33 L184.40,206.44 L184.53,207.47 L184.67,208.44 L184.80,209.34 L184.93,210.18 L185.07,210.96 L185.20,211.68 L185.33,212.35 L185.47,212.97 L185.60,213.54 L185.73,214.06 L185.87,214.54 L186.00,214.99 L186.13,215.39 L186.27,215.76 L186.40,216.10 L186.53,216.41 L186.67,216.70 L186.80,216.95 L186.93,217.19 L187.07,217.40 L187.20,217.59 L187.33,217.77 L187.47,217.93 L187.60,218.07 L187.73,218.20 L187.87,218.32 L188.00,218.42 L188.13,218.51 L188.27,218.60 L188.40,218.68 L188.53,218.74 L188.67,218.81 L188.80,218.86 L188.93,218.91 L189.07,218.95 L189.20,218.99 L189.33,219.03 L189.47,219.06 L189.60,219.09 L189.73,219.11 L189.87,219.13 L190.00,219.15 L190.13,219.17 L190.27,219.19 L190.40,219.20 L190.53,219.21 L190.67,219.22 L190.80,219.23 L190.93,219.24 L191.07,219.25 L191.20,219.25 L191.33,219.26 L191.47,219.26 L191.60,219.27 L191.73,219.27 L191.87,219.28 L192.00,219.28" fill="#fff" stroke="#8c8c8c" stroke-width="0.65"/>
<path d="M177.00,219.28 L177.19,219.27 L177.38,219.25 L177.57,219.22 L177.77,219.19 L177.96,219.13 L178.15,219.06 L178.34,218.95 L178.53,218.81 L178.72,218.61 L178.92,218.35 L179.11,218.00 L179.30,217.55 L179.49,216.97 L179.68,216.24 L179.88,215.33 L180.07,214.22 L180.26,212.87 L180.45,211.27 L180.64,209.41 L180.83,207.26 L181.03,204.83 L181.22,202.13 L181.41,199.19 L181.60,196.03 L181.79,192.73 L181.98,189.33 L182.18,185.93 L182.37,182.61 L182.56,179.47 L182.75,176.61 L182.94,174.13 L183.13,172.10 L183.32,170.60 L183.52,169.69 L183.71,169.42 L183.90,170.49 L184.09,171.98 L184.28,173.65 L184.47,175.43 L184.67,177.27 L184.86,179.14 L185.05,181.02 L185.24,182.88 L185.43,184.72 L185.62,186.52 L185.82,188.28 L186.01,189.99 L186.20,191.65 L186.39,193.25 L186.58,194.78 L186.78,196.26 L186.97,197.67 L187.16,199.02 L187.35,200.30 L187.54,201.52 L187.73,202.68 L187.93,203.78 L188.12,204.82 L188.31,205.80 L188.50,206.73 L188.69,207.60 L188.88,208.42 L189.07,209.20 L189.27,209.92 L189.46,210.60 L189.65,211.24 L189.84,211.83 L190.03,212.39 L190.22,212.91 L190.42,213.39 L190.61,213.84 L190.80,214.26 L190.99,214.65 L191.18,215.02 L191.38,215.36 L191.57,215.67 L191.76,215.96 L191.95,216.23 L192.14,216.48 L192.33,216.71 L192.53,216.92 L192.72,217.12 L192.91,217.30 L193.10,217.46 L193.29,217.62 L193.48,217.76 L193.68,217.89 L193.87,218.01 L194.06,218.12 L194.25,218.22 L194.44,218.32 L194.63,218.40 L194.82,218.48 L195.02,218.55 L195.21,218.62 L195.40,218.68 L195.59,218.74 L195.78,218.79 L195.97,218.83 L196.17,218.88 L196.36,218.91 L196.55,218.95 L196.74,218.98 L196.93,219.01 L197.12,219.04 L197.32,219.06 L197.51,219.08 L197.70,219.10 L197.89,219.12 L198.08,219.14 L198.28,219.16 L198.47,219.17 L198.66,219.18 L198.85,219.19 L199.04,219.20 L199.23,219.21 L199.43,219.22 L199.62,219.23 L199.81,219.24 L200.00,219.24" fill="rgba(128,128,128,0.82)" stroke="#3a3a3a" stroke-width="0.55"/>
<path d="M176.00,219.29 L176.13,219.29 L176.27,219.28 L176.40,219.27 L176.53,219.26 L176.67,219.25 L176.80,219.23 L176.93,219.20 L177.07,219.17 L177.20,219.12 L177.33,219.06 L177.47,218.98 L177.60,218.88 L177.73,218.75 L177.87,218.58 L178.00,218.36 L178.13,218.09 L178.27,217.74 L178.40,217.32 L178.53,216.79 L178.67,216.14 L178.80,215.36 L178.93,214.41 L179.07,213.28 L179.20,211.94 L179.33,210.37 L179.47,208.55 L179.60,206.46 L179.73,204.09 L179.87,201.43 L180.00,198.49 L180.13,195.29 L180.27,191.86 L180.40,188.25 L180.53,184.53 L180.67,180.80 L180.80,177.18 L180.93,173.84 L181.07,170.97 L181.20,168.86 L181.33,168.22 L181.47,169.27 L181.60,170.72 L181.73,172.41 L181.87,174.25 L182.00,176.19 L182.13,178.19 L182.27,180.23 L182.40,182.27 L182.53,184.29 L182.67,186.29 L182.80,188.25 L182.93,190.15 L183.07,192.00 L183.20,193.78 L183.33,195.49 L183.47,197.12 L183.60,198.68 L183.73,200.17 L183.87,201.57 L184.00,202.90 L184.13,204.15 L184.27,205.33 L184.40,206.44 L184.53,207.47 L184.67,208.44 L184.80,209.34 L184.93,210.18 L185.07,210.96 L185.20,211.68 L185.33,212.35 L185.47,212.97 L185.60,213.54 L185.73,214.06 L185.87,214.54 L186.00,214.99 L186.13,215.39 L186.27,215.76 L186.40,216.10 L186.53,216.41 L186.67,216.70 L186.80,216.95 L186.93,217.19 L187.07,217.40 L187.20,217.59 L187.33,217.77 L187.47,217.93 L187.60,218.07 L187.73,218.20 L187.87,218.32 L188.00,218.42 L188.13,218.51 L188.27,218.60 L188.40,218.68 L188.53,218.74 L188.67,218.81 L188.80,218.86 L188.93,218.91 L189.07,218.95 L189.20,218.99 L189.33,219.03 L189.47,219.06 L189.60,219.09 L189.73,219.11 L189.87,219.13 L190.00,219.15 L190.13,219.17 L190.27,219.19 L190.40,219.20 L190.53,219.21 L190.67,219.22 L190.80,219.23 L190.93,219.24 L191.07,219.25 L191.20,219.25 L191.33,219.26 L191.47,219.26 L191.60,219.27 L191.73,219.27 L191.87,219.28 L192.00,219.28" fill="none" stroke="#777" stroke-width="0.5"/>
<rect x="261.3" y="183.6" width="5" height="5" fill="#fff" stroke="#333" stroke-width="0.8"/>
<text transform="translate(269.6,188.1) scale(1,1.0)" font-size="5.6" text-anchor="start" font-weight="normal" fill="#1a1a1a" >mIgG1</text>
<rect x="261.3" y="197" width="5" height="5" fill="#888" stroke="#333" stroke-width="0.8"/>
<text transform="translate(269.6,202.1) scale(1,1.0)" font-size="5.6" text-anchor="start" font-weight="normal" fill="#1a1a1a" >CD276 mAb</text>
<text transform="translate(343.1,144.2) scale(1,1.0)" font-size="8.6" text-anchor="start" font-weight="bold" fill="#1a1a1a" >D</text>
<text transform="translate(403,148.4) scale(1,1.0)" font-size="5.9" text-anchor="middle" font-weight="bold" fill="#1a1a1a" >8H8_SDIE</text>
<text transform="translate(429.2,196.4) scale(1,1.0)" font-size="5.9" text-anchor="start" font-weight="bold" fill="#1a1a1a" >SDIE</text>
<text transform="translate(429.2,203.6) scale(1,1.0)" font-size="5.9" text-anchor="start" font-weight="bold" fill="#1a1a1a" textLength="33" lengthAdjust="spacingAndGlyphs" >modification</text>
<line x1="418" y1="197.4" x2="425.3" y2="197.4" stroke="#111" stroke-width="0.9" />
<polygon points="418.5,195.7 414.8,197.4 418.5,199.1" fill="#111"/>
<g transform="translate(378.9,175.5) rotate(-34.5)"><path d="M-3.7,-13.25 L-1.11,-14.45 L0.18500000000000003,-11.95 L1.665,-14.25 L3.7,-13.25 L3.7,0.5 L-3.7,0.5 Z" fill="#aaa9de" stroke="#7676a0" stroke-width="0.6"/><path d="M-3.7,0.5 L3.7,0.5 L3.7,12.65 Q3.7,14.25 2.1,14.25 L-2.1,14.25 Q-3.7,14.25 -3.7,12.65 Z" fill="#e8e8e8" stroke="#6a6a6a" stroke-width="0.6"/></g>
<g transform="translate(386.47686430196944,169.92854351632) rotate(-34.5)"><path d="M-3.7,-13.25 L-1.11,-14.45 L0.18500000000000003,-11.95 L1.665,-14.25 L3.7,-13.25 L3.7,0.5 L-3.7,0.5 Z" fill="#aaa9de" stroke="#7676a0" stroke-width="0.6"/><path d="M-3.7,0.5 L3.7,0.5 L3.7,12.65 Q3.7,14.25 2.1,14.25 L-2.1,14.25 Q-3.7,14.25 -3.7,12.65 Z" fill="#e8e8e8" stroke="#6a6a6a" stroke-width="0.6"/></g>
<g transform="translate(427.1,175.5) rotate(34.5)"><path d="M-3.7,-13.25 L-1.11,-14.45 L0.18500000000000003,-11.95 L1.665,-14.25 L3.7,-13.25 L3.7,0.5 L-3.7,0.5 Z" fill="#aaa9de" stroke="#7676a0" stroke-width="0.6"/><path d="M-3.7,0.5 L3.7,0.5 L3.7,12.65 Q3.7,14.25 2.1,14.25 L-2.1,14.25 Q-3.7,14.25 -3.7,12.65 Z" fill="#e8e8e8" stroke="#6a6a6a" stroke-width="0.6"/></g>
<g transform="translate(419.52313569803056,169.92854351632) rotate(34.5)"><path d="M-3.7,-13.25 L-1.11,-14.45 L0.18500000000000003,-11.95 L1.665,-14.25 L3.7,-13.25 L3.7,0.5 L-3.7,0.5 Z" fill="#aaa9de" stroke="#7676a0" stroke-width="0.6"/><path d="M-3.7,0.5 L3.7,0.5 L3.7,12.65 Q3.7,14.25 2.1,14.25 L-2.1,14.25 Q-3.7,14.25 -3.7,12.65 Z" fill="#e8e8e8" stroke="#6a6a6a" stroke-width="0.6"/></g>
<path d="M392.5,182.5 Q398.7,184 398.7,189 L398.7,193" fill="none" stroke="#666" stroke-width="1.1"/>
<path d="M413.5,182.5 Q407.3,184 407.3,189 L407.3,193" fill="none" stroke="#666" stroke-width="1.1"/>
<line x1="398.7" y1="188.3" x2="407.3" y2="188.3" stroke="#666" stroke-width="0.9" />
<line x1="398.7" y1="191" x2="407.3" y2="191" stroke="#666" stroke-width="0.9" />
<rect x="394.2" y="193.1" width="7.4" height="14.3" rx="1.6" fill="#d9d9d9" stroke="#666" stroke-width="0.6"/>
<rect x="394.2" y="208.7" width="7.4" height="14.3" rx="1.6" fill="#d9d9d9" stroke="#666" stroke-width="0.6"/>
<rect x="394.5" y="197.6" width="6.8" height="1.3" fill="#b03a5a"/>
<rect x="404.3" y="193.1" width="7.4" height="14.3" rx="1.6" fill="#d9d9d9" stroke="#666" stroke-width="0.6"/>
<rect x="404.3" y="208.7" width="7.4" height="14.3" rx="1.6" fill="#d9d9d9" stroke="#666" stroke-width="0.6"/>
<rect x="404.6" y="197.6" width="6.8" height="1.3" fill="#b03a5a"/>
<text transform="translate(2.3,247.8) scale(1,1.0)" font-size="8.6" text-anchor="start" font-weight="bold" fill="#1a1a1a" >E</text>
<line x1="45.4" y1="261.3" x2="45.4" y2="326.8" stroke="#262626" stroke-width="1.0" />
<line x1="42.4" y1="326.3" x2="45.4" y2="326.3" stroke="#262626" stroke-width="1.0" />
<text transform="translate(41.199999999999996,328.5) scale(1,1.0)" font-size="6.2" text-anchor="end" font-weight="normal" fill="#1a1a1a" >0</text>
<line x1="42.4" y1="304.6333333333333" x2="45.4" y2="304.6333333333333" stroke="#262626" stroke-width="1.0" />
<text transform="translate(41.199999999999996,306.8333333333333) scale(1,1.0)" font-size="6.2" text-anchor="end" font-weight="normal" fill="#1a1a1a" >1×10<tspan font-size="4.2" dy="-1.9">4</tspan></text>
<line x1="42.4" y1="282.9666666666667" x2="45.4" y2="282.9666666666667" stroke="#262626" stroke-width="1.0" />
<text transform="translate(41.199999999999996,285.1666666666667) scale(1,1.0)" font-size="6.2" text-anchor="end" font-weight="normal" fill="#1a1a1a" >2×10<tspan font-size="4.2" dy="-1.9">4</tspan></text>
<line x1="42.4" y1="261.3" x2="45.4" y2="261.3" stroke="#262626" stroke-width="1.0" />
<text transform="translate(41.199999999999996,263.5) scale(1,1.0)" font-size="6.2" text-anchor="end" font-weight="normal" fill="#1a1a1a" >3×10<tspan font-size="4.2" dy="-1.9">4</tspan></text>
<line x1="52.35" y1="333.8" x2="154.65" y2="333.8" stroke="#262626" stroke-width="1.0" />
<line x1="52.35" y1="333.8" x2="52.35" y2="336.2" stroke="#262626" stroke-width="1.0" />
<text transform="translate(52.050000000000004,343.40000000000003) scale(1,1.0)" font-size="5.7" text-anchor="middle" font-weight="normal" fill="#1a1a1a" >10<tspan font-size="4.2" dy="-1.7">−4</tspan></text>
<line x1="69.4" y1="333.8" x2="69.4" y2="336.2" stroke="#262626" stroke-width="1.0" />
<text transform="translate(69.10000000000001,343.40000000000003) scale(1,1.0)" font-size="5.7" text-anchor="middle" font-weight="normal" fill="#1a1a1a" >10<tspan font-size="4.2" dy="-1.7">−3</tspan></text>
<line x1="86.45" y1="333.8" x2="86.45" y2="336.2" stroke="#262626" stroke-width="1.0" />
<text transform="translate(86.15,343.40000000000003) scale(1,1.0)" font-size="5.7" text-anchor="middle" font-weight="normal" fill="#1a1a1a" >10<tspan font-size="4.2" dy="-1.7">−2</tspan></text>
<line x1="103.5" y1="333.8" x2="103.5" y2="336.2" stroke="#262626" stroke-width="1.0" />
<text transform="translate(103.2,343.40000000000003) scale(1,1.0)" font-size="5.7" text-anchor="middle" font-weight="normal" fill="#1a1a1a" >10<tspan font-size="4.2" dy="-1.7">−1</tspan></text>
<line x1="120.55000000000001" y1="333.8" x2="120.55000000000001" y2="336.2" stroke="#262626" stroke-width="1.0" />
<text transform="translate(120.25000000000001,343.40000000000003) scale(1,1.0)" font-size="5.7" text-anchor="middle" font-weight="normal" fill="#1a1a1a" >10<tspan font-size="4.2" dy="-1.7">0</tspan></text>
<line x1="137.6" y1="333.8" x2="137.6" y2="336.2" stroke="#262626" stroke-width="1.0" />
<text transform="translate(137.29999999999998,343.40000000000003) scale(1,1.0)" font-size="5.7" text-anchor="middle" font-weight="normal" fill="#1a1a1a" >10<tspan font-size="4.2" dy="-1.7">1</tspan></text>
<line x1="154.65" y1="333.8" x2="154.65" y2="336.2" stroke="#262626" stroke-width="1.0" />
<text transform="translate(154.35,343.40000000000003) scale(1,1.0)" font-size="5.7" text-anchor="middle" font-weight="normal" fill="#1a1a1a" >10<tspan font-size="4.2" dy="-1.7">2</tspan></text>
<text transform="translate(103.5,352.3) scale(1,1.0)" font-size="5.9" text-anchor="middle" font-weight="normal" fill="#1a1a1a" textLength="59" lengthAdjust="spacingAndGlyphs" >Concentration [µg/ml]</text>
<text transform="translate(100,256.6) scale(1,1.0)" font-size="5.9" text-anchor="middle" font-weight="normal" fill="#1a1a1a" >A549</text>
<text transform="translate(22.2,294.8) scale(1,1.0) rotate(-90)" font-size="5.7" text-anchor="middle" font-weight="normal" fill="#1a1a1a" >MFI (Mean)</text>
<polyline points="56.25,323.50 64.39,324.20 72.52,323.50 80.66,322.50 88.79,319.80 96.93,314.20 105.06,308.50 113.20,290.20 121.33,272.10 129.47,275.60 137.60,272.90 145.73,273.30" fill="none" stroke="#444" stroke-width="0.75" stroke-linejoin="miter" />
<circle cx="56.25" cy="323.5" r="1.8" fill="#111"/>
<circle cx="64.39" cy="324.2" r="1.8" fill="#111"/>
<circle cx="72.52" cy="323.5" r="1.8" fill="#111"/>
<circle cx="80.66" cy="322.5" r="1.8" fill="#111"/>
<circle cx="88.79" cy="319.8" r="1.8" fill="#111"/>
<circle cx="96.93" cy="314.2" r="1.8" fill="#111"/>
<circle cx="105.06" cy="308.5" r="1.8" fill="#111"/>
<circle cx="113.20" cy="290.2" r="1.8" fill="#111"/>
<circle cx="121.33" cy="272.1" r="1.8" fill="#111"/>
<circle cx="129.47" cy="275.6" r="1.8" fill="#111"/>
<circle cx="137.60" cy="272.9" r="1.8" fill="#111"/>
<circle cx="145.73" cy="273.3" r="1.8" fill="#111"/>
<rect x="144.23" y="318.9" width="3" height="3" fill="#111"/>
<line x1="50.8" y1="267.9" x2="60" y2="267.9" stroke="#555" stroke-width="0.65" />
<circle cx="55.3" cy="267.9" r="1.8" fill="#111"/>
<text transform="translate(62.3,270.0) scale(1,1.0)" font-size="5.6" text-anchor="start" font-weight="normal" fill="#1a1a1a" >8H8_SDIE</text>
<line x1="50.3" y1="277.7" x2="59.5" y2="277.7" stroke="#555" stroke-width="0.65" />
<rect x="52.8" y="276.2" width="3" height="3" fill="#111"/>
<text transform="translate(61.2,279.8) scale(1,1.0)" font-size="5.6" text-anchor="start" font-weight="normal" fill="#1a1a1a" >MOPC_SDIE</text>
<line x1="203.3" y1="261.3" x2="203.3" y2="326.8" stroke="#262626" stroke-width="1.0" />
<line x1="200.3" y1="326.3" x2="203.3" y2="326.3" stroke="#262626" stroke-width="1.0" />
<text transform="translate(199.10000000000002,328.5) scale(1,1.0)" font-size="6.2" text-anchor="end" font-weight="normal" fill="#1a1a1a" >0</text>
<line x1="200.3" y1="304.6333333333333" x2="203.3" y2="304.6333333333333" stroke="#262626" stroke-width="1.0" />
<text transform="translate(199.10000000000002,306.8333333333333) scale(1,1.0)" font-size="6.2" text-anchor="end" font-weight="normal" fill="#1a1a1a" >5×10<tspan font-size="4.2" dy="-1.9">4</tspan></text>
<line x1="200.3" y1="282.9666666666667" x2="203.3" y2="282.9666666666667" stroke="#262626" stroke-width="1.0" />
<text transform="translate(199.10000000000002,285.1666666666667) scale(1,1.0)" font-size="6.2" text-anchor="end" font-weight="normal" fill="#1a1a1a" >1×10<tspan font-size="4.2" dy="-1.9">5</tspan></text>
<line x1="200.3" y1="261.3" x2="203.3" y2="261.3" stroke="#262626" stroke-width="1.0" />
<text transform="translate(199.10000000000002,263.5) scale(1,1.0)" font-size="6.2" text-anchor="end" font-weight="normal" fill="#1a1a1a" >1.5×10<tspan font-size="4.2" dy="-1.9">5</tspan></text>
<line x1="209.8" y1="333.8" x2="312.1" y2="333.8" stroke="#262626" stroke-width="1.0" />
<line x1="209.8" y1="333.8" x2="209.8" y2="336.2" stroke="#262626" stroke-width="1.0" />
<text transform="translate(209.5,343.40000000000003) scale(1,1.0)" font-size="5.7" text-anchor="middle" font-weight="normal" fill="#1a1a1a" >10<tspan font-size="4.2" dy="-1.7">−4</tspan></text>
<line x1="226.85000000000002" y1="333.8" x2="226.85000000000002" y2="336.2" stroke="#262626" stroke-width="1.0" />
<text transform="translate(226.55,343.40000000000003) scale(1,1.0)" font-size="5.7" text-anchor="middle" font-weight="normal" fill="#1a1a1a" >10<tspan font-size="4.2" dy="-1.7">−3</tspan></text>
<line x1="243.9" y1="333.8" x2="243.9" y2="336.2" stroke="#262626" stroke-width="1.0" />
<text transform="translate(243.6,343.40000000000003) scale(1,1.0)" font-size="5.7" text-anchor="middle" font-weight="normal" fill="#1a1a1a" >10<tspan font-size="4.2" dy="-1.7">−2</tspan></text>
<line x1="260.95000000000005" y1="333.8" x2="260.95000000000005" y2="336.2" stroke="#262626" stroke-width="1.0" />
<text transform="translate(260.65000000000003,343.40000000000003) scale(1,1.0)" font-size="5.7" text-anchor="middle" font-weight="normal" fill="#1a1a1a" >10<tspan font-size="4.2" dy="-1.7">−1</tspan></text>
<line x1="278.0" y1="333.8" x2="278.0" y2="336.2" stroke="#262626" stroke-width="1.0" />
<text transform="translate(277.7,343.40000000000003) scale(1,1.0)" font-size="5.7" text-anchor="middle" font-weight="normal" fill="#1a1a1a" >10<tspan font-size="4.2" dy="-1.7">0</tspan></text>
<line x1="295.05" y1="333.8" x2="295.05" y2="336.2" stroke="#262626" stroke-width="1.0" />
<text transform="translate(294.75,343.40000000000003) scale(1,1.0)" font-size="5.7" text-anchor="middle" font-weight="normal" fill="#1a1a1a" >10<tspan font-size="4.2" dy="-1.7">1</tspan></text>
<line x1="312.1" y1="333.8" x2="312.1" y2="336.2" stroke="#262626" stroke-width="1.0" />
<text transform="translate(311.8,343.40000000000003) scale(1,1.0)" font-size="5.7" text-anchor="middle" font-weight="normal" fill="#1a1a1a" >10<tspan font-size="4.2" dy="-1.7">2</tspan></text>
<text transform="translate(260.95000000000005,352.3) scale(1,1.0)" font-size="5.9" text-anchor="middle" font-weight="normal" fill="#1a1a1a" textLength="59" lengthAdjust="spacingAndGlyphs" >Concentration [µg/ml]</text>
<text transform="translate(257.5,256.6) scale(1,1.0)" font-size="5.9" text-anchor="middle" font-weight="normal" fill="#1a1a1a" >NCI-H226</text>
<text transform="translate(174.2,294.3) scale(1,1.0) rotate(-90)" font-size="5.7" text-anchor="middle" font-weight="normal" fill="#1a1a1a" >MFI (Mean)</text>
<polyline points="213.70,326.60 221.84,326.60 229.97,326.40 238.11,326.10 246.24,325.70 254.38,324.50 262.51,322.00 270.65,318.80 278.78,314.50 286.92,312.20 295.05,294.00 303.18,284.40" fill="none" stroke="#444" stroke-width="0.75" stroke-linejoin="miter" />
<circle cx="213.70" cy="326.6" r="1.8" fill="#111"/>
<circle cx="221.84" cy="326.6" r="1.8" fill="#111"/>
<circle cx="229.97" cy="326.4" r="1.8" fill="#111"/>
<circle cx="238.11" cy="326.1" r="1.8" fill="#111"/>
<circle cx="246.24" cy="325.7" r="1.8" fill="#111"/>
<circle cx="254.38" cy="324.5" r="1.8" fill="#111"/>
<circle cx="262.51" cy="322" r="1.8" fill="#111"/>
<circle cx="270.65" cy="318.8" r="1.8" fill="#111"/>
<circle cx="278.78" cy="314.5" r="1.8" fill="#111"/>
<circle cx="286.92" cy="312.2" r="1.8" fill="#111"/>
<circle cx="295.05" cy="294" r="1.8" fill="#111"/>
<circle cx="303.18" cy="284.4" r="1.8" fill="#111"/>
<rect x="301.68" y="324.9" width="3" height="3" fill="#111"/>
<line x1="364.6" y1="261.3" x2="364.6" y2="326.8" stroke="#262626" stroke-width="1.0" />
<line x1="361.6" y1="326.3" x2="364.6" y2="326.3" stroke="#262626" stroke-width="1.0" />
<text transform="translate(360.40000000000003,328.5) scale(1,1.0)" font-size="6.2" text-anchor="end" font-weight="normal" fill="#1a1a1a" >0</text>
<line x1="361.6" y1="304.6333333333333" x2="364.6" y2="304.6333333333333" stroke="#262626" stroke-width="1.0" />
<text transform="translate(360.40000000000003,306.8333333333333) scale(1,1.0)" font-size="6.2" text-anchor="end" font-weight="normal" fill="#1a1a1a" >1×10<tspan font-size="4.2" dy="-1.9">4</tspan></text>
<line x1="361.6" y1="282.9666666666667" x2="364.6" y2="282.9666666666667" stroke="#262626" stroke-width="1.0" />
<text transform="translate(360.40000000000003,285.1666666666667) scale(1,1.0)" font-size="6.2" text-anchor="end" font-weight="normal" fill="#1a1a1a" >2×10<tspan font-size="4.2" dy="-1.9">4</tspan></text>
<line x1="361.6" y1="261.3" x2="364.6" y2="261.3" stroke="#262626" stroke-width="1.0" />
<text transform="translate(360.40000000000003,263.5) scale(1,1.0)" font-size="6.2" text-anchor="end" font-weight="normal" fill="#1a1a1a" >3×10<tspan font-size="4.2" dy="-1.9">4</tspan></text>
<line x1="371.4" y1="333.8" x2="473.7" y2="333.8" stroke="#262626" stroke-width="1.0" />
<line x1="371.4" y1="333.8" x2="371.4" y2="336.2" stroke="#262626" stroke-width="1.0" />
<text transform="translate(371.09999999999997,343.40000000000003) scale(1,1.0)" font-size="5.7" text-anchor="middle" font-weight="normal" fill="#1a1a1a" >10<tspan font-size="4.2" dy="-1.7">−4</tspan></text>
<line x1="388.45" y1="333.8" x2="388.45" y2="336.2" stroke="#262626" stroke-width="1.0" />
<text transform="translate(388.15,343.40000000000003) scale(1,1.0)" font-size="5.7" text-anchor="middle" font-weight="normal" fill="#1a1a1a" >10<tspan font-size="4.2" dy="-1.7">−3</tspan></text>
<line x1="405.5" y1="333.8" x2="405.5" y2="336.2" stroke="#262626" stroke-width="1.0" />
<text transform="translate(405.2,343.40000000000003) scale(1,1.0)" font-size="5.7" text-anchor="middle" font-weight="normal" fill="#1a1a1a" >10<tspan font-size="4.2" dy="-1.7">−2</tspan></text>
<line x1="422.54999999999995" y1="333.8" x2="422.54999999999995" y2="336.2" stroke="#262626" stroke-width="1.0" />
<text transform="translate(422.24999999999994,343.40000000000003) scale(1,1.0)" font-size="5.7" text-anchor="middle" font-weight="normal" fill="#1a1a1a" >10<tspan font-size="4.2" dy="-1.7">−1</tspan></text>
<line x1="439.59999999999997" y1="333.8" x2="439.59999999999997" y2="336.2" stroke="#262626" stroke-width="1.0" />
<text transform="translate(439.29999999999995,343.40000000000003) scale(1,1.0)" font-size="5.7" text-anchor="middle" font-weight="normal" fill="#1a1a1a" >10<tspan font-size="4.2" dy="-1.7">0</tspan></text>
<line x1="456.65" y1="333.8" x2="456.65" y2="336.2" stroke="#262626" stroke-width="1.0" />
<text transform="translate(456.34999999999997,343.40000000000003) scale(1,1.0)" font-size="5.7" text-anchor="middle" font-weight="normal" fill="#1a1a1a" >10<tspan font-size="4.2" dy="-1.7">1</tspan></text>
<line x1="473.7" y1="333.8" x2="473.7" y2="336.2" stroke="#262626" stroke-width="1.0" />
<text transform="translate(473.4,343.40000000000003) scale(1,1.0)" font-size="5.7" text-anchor="middle" font-weight="normal" fill="#1a1a1a" >10<tspan font-size="4.2" dy="-1.7">2</tspan></text>
<text transform="translate(422.54999999999995,352.3) scale(1,1.0)" font-size="5.9" text-anchor="middle" font-weight="normal" fill="#1a1a1a" textLength="59" lengthAdjust="spacingAndGlyphs" >Concentration [µg/ml]</text>
<text transform="translate(419.2,256.6) scale(1,1.0)" font-size="5.9" text-anchor="middle" font-weight="normal" fill="#1a1a1a" >NCI-H460</text>
<text transform="translate(341.3,293.8) scale(1,1.0) rotate(-90)" font-size="5.7" text-anchor="middle" font-weight="normal" fill="#1a1a1a" >MFI (Mean)</text>
<polyline points="375.30,324.90 383.44,324.90 391.57,323.90 399.71,323.20 407.84,321.40 415.98,317.30 424.11,308.60 432.25,288.60 440.38,277.20 448.52,273.70 456.65,266.90 464.78,285.90" fill="none" stroke="#444" stroke-width="0.75" stroke-linejoin="miter" />
<circle cx="375.30" cy="324.9" r="1.8" fill="#111"/>
<circle cx="383.44" cy="324.9" r="1.8" fill="#111"/>
<circle cx="391.57" cy="323.9" r="1.8" fill="#111"/>
<circle cx="399.71" cy="323.2" r="1.8" fill="#111"/>
<circle cx="407.84" cy="321.4" r="1.8" fill="#111"/>
<circle cx="415.98" cy="317.3" r="1.8" fill="#111"/>
<circle cx="424.11" cy="308.6" r="1.8" fill="#111"/>
<circle cx="432.25" cy="288.6" r="1.8" fill="#111"/>
<circle cx="440.38" cy="277.2" r="1.8" fill="#111"/>
<circle cx="448.52" cy="273.7" r="1.8" fill="#111"/>
<circle cx="456.65" cy="266.9" r="1.8" fill="#111"/>
<circle cx="464.78" cy="285.9" r="1.8" fill="#111"/>
<rect x="463.28" y="322.7" width="3" height="3" fill="#111"/>
</g>
</svg></body></html>
